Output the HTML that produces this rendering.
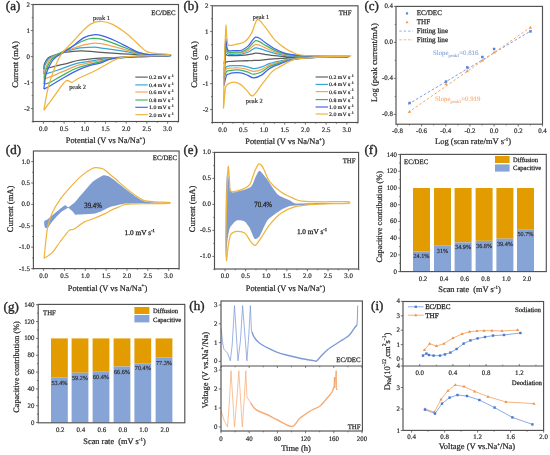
<!DOCTYPE html>
<html><head><meta charset="utf-8"><style>
html,body{margin:0;padding:0;background:#fff;}
svg{display:block;will-change:transform;}
text{font-family:"Liberation Serif", serif;text-rendering:geometricPrecision;}
</style></head><body>
<svg width="550" height="455" viewBox="0 0 550 455">
<rect width="550" height="455" fill="#fff"/>
<path d="M43.81,69.08 C43.85,68.65 43.88,67.39 44.02,66.48 C44.16,65.57 44.12,64.83 44.64,63.62 C45.16,62.41 46.23,60.33 47.13,59.2 C48.02,58.07 48.51,57.64 50.02,56.86 C51.54,56.08 53.82,55.26 56.23,54.52 C58.65,53.78 60.37,53.05 64.51,52.44 C68.65,51.83 75.9,50.97 81.07,50.88 C86.25,50.79 90.25,51.53 95.56,51.92 C100.88,52.31 105.78,52.79 112.95,53.22 C120.13,53.65 129.51,54.26 138.62,54.52 C147.73,54.78 162.77,54.65 167.6,54.78 C172.43,54.91 172.43,55.08 167.6,55.3 C162.77,55.52 147.73,55.69 138.62,56.08 C129.51,56.47 119.37,57.29 112.95,57.64 C106.53,57.99 105.98,57.68 100.12,58.16 C94.25,58.64 83.08,59.68 77.76,60.5 C72.45,61.32 71.83,62.19 68.24,63.1 C64.65,64.01 59.75,65.09 56.23,65.96 C52.71,66.83 49.2,67.78 47.13,68.3 C45.06,68.82 44.37,68.95 43.81,69.08" stroke="#5c5c5c" stroke-width="1.25" fill="none" stroke-linejoin="round" />
<path d="M43.81,74.28 C43.85,73.5 43.88,70.99 44.02,69.6 C44.16,68.21 43.92,67.69 44.64,65.96 C45.37,64.23 47.06,60.8 48.37,59.2 C49.68,57.6 50.58,57.29 52.51,56.34 C54.44,55.39 55.96,54.78 59.96,53.48 C63.96,52.18 70.86,49.58 76.52,48.54 C82.18,47.5 89.77,47.33 93.91,47.24 C98.05,47.15 98.19,47.63 101.36,48.02 C104.53,48.41 108.33,48.89 112.95,49.58 C117.58,50.27 124.68,51.4 129.1,52.18 C133.51,52.96 135.79,53.78 139.45,54.26 C143.1,54.74 146.35,54.87 151.04,55.04 C155.73,55.21 164.84,55.17 167.6,55.3 C170.36,55.43 172.43,55.6 167.6,55.82 C162.77,56.04 147.73,56.25 138.62,56.6 C129.51,56.95 119.37,57.38 112.95,57.9 C106.53,58.42 105.98,58.85 100.12,59.72 C94.25,60.59 84.11,61.63 77.76,63.1 C71.41,64.57 66.65,66.96 62.03,68.56 C57.41,70.16 53.06,71.77 50.02,72.72 C46.99,73.67 44.85,74.02 43.81,74.28" stroke="#35a6d6" stroke-width="1.25" fill="none" stroke-linejoin="round" />
<path d="M43.81,78.7 C43.92,77.83 44.19,75.1 44.43,73.5 C44.68,71.9 44.4,71.33 45.26,69.08 C46.13,66.83 47.99,62.19 49.61,59.98 C51.23,57.77 51.89,57.42 54.99,55.82 C58.1,54.22 63.41,52.18 68.24,50.36 C73.07,48.54 79.69,46.11 83.97,44.9 C88.25,43.69 91.01,43.3 93.91,43.08 C96.81,42.86 98.19,43.04 101.36,43.6 C104.53,44.16 108.33,45.25 112.95,46.46 C117.58,47.67 124.68,49.62 129.1,50.88 C133.51,52.14 135.79,53.31 139.45,54 C143.1,54.69 146.35,54.82 151.04,55.04 C155.73,55.26 164.84,55.17 167.6,55.3 C170.36,55.43 172.43,55.6 167.6,55.82 C162.77,56.04 147.73,56.21 138.62,56.6 C129.51,56.99 119.37,57.47 112.95,58.16 C106.53,58.85 105.98,59.55 100.12,60.76 C94.25,61.97 84.11,63.58 77.76,65.44 C71.41,67.3 66.86,69.95 62.03,71.94 C57.2,73.93 51.82,76.27 48.78,77.4 C45.75,78.53 44.64,78.48 43.81,78.7" stroke="#f6a35a" stroke-width="1.25" fill="none" stroke-linejoin="round" />
<path d="M44.02,84.16 C44.12,83.03 44.33,79.7 44.64,77.4 C44.95,75.1 44.78,73.28 45.88,70.38 C46.99,67.48 49.54,62.41 51.27,59.98 C52.99,57.55 54.09,57.34 56.23,55.82 C58.37,54.3 59.48,53.44 64.1,50.88 C68.72,48.32 79,42.56 83.97,40.48 C88.94,38.4 91.01,38.62 93.91,38.4 C96.81,38.18 98.19,38.4 101.36,39.18 C104.53,39.96 108.33,41.39 112.95,43.08 C117.58,44.77 124.68,47.59 129.1,49.32 C133.51,51.05 135.79,52.57 139.45,53.48 C143.1,54.39 146.35,54.48 151.04,54.78 C155.73,55.08 164.84,55.13 167.6,55.3 C170.36,55.47 172.43,55.6 167.6,55.82 C162.77,56.04 147.73,56.17 138.62,56.6 C129.51,57.03 119.37,57.55 112.95,58.42 C106.53,59.29 105.98,60.24 100.12,61.8 C94.25,63.36 84.11,65.48 77.76,67.78 C71.41,70.08 66.65,73.15 62.03,75.58 C57.41,78.01 53.03,80.91 50.02,82.34 C47.02,83.77 45.02,83.86 44.02,84.16" stroke="#3db45c" stroke-width="1.25" fill="none" stroke-linejoin="round" />
<path d="M43.81,89.1 C43.99,87.8 44.4,84.03 44.85,81.3 C45.3,78.57 45.23,76.19 46.5,72.72 C47.78,69.25 50.54,63.36 52.51,60.5 C54.47,57.64 55.68,57.38 58.3,55.56 C60.93,53.74 63.96,52.57 68.24,49.58 C72.52,46.59 79.69,40.09 83.97,37.62 C88.25,35.15 90.8,35.06 93.91,34.76 C97.01,34.46 99.15,34.85 102.6,35.8 C106.05,36.75 110.19,38.49 114.61,40.48 C119.02,42.47 124.96,45.72 129.1,47.76 C133.24,49.8 135.79,51.53 139.45,52.7 C143.1,53.87 146.35,54.35 151.04,54.78 C155.73,55.21 164.84,55.13 167.6,55.3 C170.36,55.47 172.43,55.6 167.6,55.82 C162.77,56.04 147.73,56.12 138.62,56.6 C129.51,57.08 119.37,57.6 112.95,58.68 C106.53,59.76 103.77,62.02 100.12,63.1 C96.46,64.18 94.74,64.01 91.01,65.18 C87.28,66.35 82.59,67.87 77.76,70.12 C72.93,72.37 66.65,76.06 62.03,78.7 C57.41,81.34 53.06,84.25 50.02,85.98 C46.99,87.71 44.85,88.58 43.81,89.1" stroke="#4262ec" stroke-width="1.25" fill="none" stroke-linejoin="round" />
<path d="M43.81,110.42 C44.3,107.73 45.75,98.98 46.71,94.3 C47.68,89.62 48.02,87.37 49.61,82.34 C51.2,77.31 54.16,68.99 56.23,64.14 C58.3,59.29 58.99,57.25 62.03,53.22 C65.07,49.19 71.28,43.38 74.45,39.96 C77.62,36.54 78.31,35.37 81.07,32.68 C83.83,29.99 87.49,25.7 91.01,23.84 C94.53,21.98 98.6,21.41 102.19,21.5 C105.78,21.59 109.16,22.84 112.54,24.36 C115.92,25.88 119.16,28.22 122.47,30.6 C125.79,32.98 129.37,35.97 132.41,38.66 C135.45,41.35 138.28,44.55 140.69,46.72 C143.1,48.89 144.49,50.53 146.9,51.66 C149.31,52.79 151.73,53.05 155.18,53.48 C158.63,53.91 165.53,53.96 167.6,54.26 C169.67,54.56 171.6,55.04 167.6,55.3 C163.6,55.56 150.97,55.52 143.59,55.82 C136.2,56.12 128.13,56.43 123.3,57.12 C118.47,57.81 118.47,58.16 114.61,59.98 C110.74,61.8 104.05,65.92 100.12,68.04 C96.18,70.16 94.74,70.94 91.01,72.72 C87.28,74.5 80.94,77.1 77.76,78.7 C74.59,80.3 73.97,81.95 71.97,82.34 C69.96,82.73 68.58,78.92 65.76,81.04 C62.93,83.16 58.65,90.18 54.99,95.08 C51.33,99.98 45.68,107.86 43.81,110.42" stroke="#eeb43c" stroke-width="1.25" fill="none" stroke-linejoin="round" />
<rect x="33" y="4.5" width="145.5" height="117" fill="none" stroke="#505050" stroke-width="1.15"/>
<line x1="43.4" y1="121.5" x2="43.4" y2="123.7" stroke="#505050" stroke-width="0.8" />
<text transform="translate(43.4,130.8)" font-size="6.9" text-anchor="middle" fill="#2a2a2a" stroke="#2a2a2a" stroke-width="0.2" >0.0</text>
<line x1="64.1" y1="121.5" x2="64.1" y2="123.7" stroke="#505050" stroke-width="0.8" />
<text transform="translate(64.1,130.8)" font-size="6.9" text-anchor="middle" fill="#2a2a2a" stroke="#2a2a2a" stroke-width="0.2" >0.5</text>
<line x1="84.8" y1="121.5" x2="84.8" y2="123.7" stroke="#505050" stroke-width="0.8" />
<text transform="translate(84.8,130.8)" font-size="6.9" text-anchor="middle" fill="#2a2a2a" stroke="#2a2a2a" stroke-width="0.2" >1.0</text>
<line x1="105.5" y1="121.5" x2="105.5" y2="123.7" stroke="#505050" stroke-width="0.8" />
<text transform="translate(105.5,130.8)" font-size="6.9" text-anchor="middle" fill="#2a2a2a" stroke="#2a2a2a" stroke-width="0.2" >1.5</text>
<line x1="126.2" y1="121.5" x2="126.2" y2="123.7" stroke="#505050" stroke-width="0.8" />
<text transform="translate(126.2,130.8)" font-size="6.9" text-anchor="middle" fill="#2a2a2a" stroke="#2a2a2a" stroke-width="0.2" >2.0</text>
<line x1="146.9" y1="121.5" x2="146.9" y2="123.7" stroke="#505050" stroke-width="0.8" />
<text transform="translate(146.9,130.8)" font-size="6.9" text-anchor="middle" fill="#2a2a2a" stroke="#2a2a2a" stroke-width="0.2" >2.5</text>
<line x1="167.6" y1="121.5" x2="167.6" y2="123.7" stroke="#505050" stroke-width="0.8" />
<text transform="translate(167.6,130.8)" font-size="6.9" text-anchor="middle" fill="#2a2a2a" stroke="#2a2a2a" stroke-width="0.2" >3.0</text>
<line x1="33.05" y1="121.5" x2="33.05" y2="122.82" stroke="#505050" stroke-width="0.7" />
<line x1="53.75" y1="121.5" x2="53.75" y2="122.82" stroke="#505050" stroke-width="0.7" />
<line x1="74.45" y1="121.5" x2="74.45" y2="122.82" stroke="#505050" stroke-width="0.7" />
<line x1="95.15" y1="121.5" x2="95.15" y2="122.82" stroke="#505050" stroke-width="0.7" />
<line x1="115.85" y1="121.5" x2="115.85" y2="122.82" stroke="#505050" stroke-width="0.7" />
<line x1="136.55" y1="121.5" x2="136.55" y2="122.82" stroke="#505050" stroke-width="0.7" />
<line x1="157.25" y1="121.5" x2="157.25" y2="122.82" stroke="#505050" stroke-width="0.7" />
<line x1="177.95" y1="121.5" x2="177.95" y2="122.82" stroke="#505050" stroke-width="0.7" />
<line x1="30.8" y1="4.6" x2="33" y2="4.6" stroke="#505050" stroke-width="0.8" />
<text transform="translate(30,6.6)" font-size="6.9" text-anchor="end" fill="#2a2a2a" stroke="#2a2a2a" stroke-width="0.2" >2</text>
<line x1="30.8" y1="30.6" x2="33" y2="30.6" stroke="#505050" stroke-width="0.8" />
<text transform="translate(30,32.6)" font-size="6.9" text-anchor="end" fill="#2a2a2a" stroke="#2a2a2a" stroke-width="0.2" >1</text>
<line x1="30.8" y1="56.6" x2="33" y2="56.6" stroke="#505050" stroke-width="0.8" />
<text transform="translate(30,58.6)" font-size="6.9" text-anchor="end" fill="#2a2a2a" stroke="#2a2a2a" stroke-width="0.2" >0</text>
<line x1="30.8" y1="82.6" x2="33" y2="82.6" stroke="#505050" stroke-width="0.8" />
<text transform="translate(30,84.6)" font-size="6.9" text-anchor="end" fill="#2a2a2a" stroke="#2a2a2a" stroke-width="0.2" >-1</text>
<line x1="30.8" y1="108.6" x2="33" y2="108.6" stroke="#505050" stroke-width="0.8" />
<text transform="translate(30,110.6)" font-size="6.9" text-anchor="end" fill="#2a2a2a" stroke="#2a2a2a" stroke-width="0.2" >-2</text>
<line x1="31.68" y1="17.6" x2="33" y2="17.6" stroke="#505050" stroke-width="0.7" />
<line x1="31.68" y1="43.6" x2="33" y2="43.6" stroke="#505050" stroke-width="0.7" />
<line x1="31.68" y1="69.6" x2="33" y2="69.6" stroke="#505050" stroke-width="0.7" />
<line x1="31.68" y1="95.6" x2="33" y2="95.6" stroke="#505050" stroke-width="0.7" />
<line x1="31.68" y1="121.6" x2="33" y2="121.6" stroke="#505050" stroke-width="0.7" />
<text transform="translate(105.5,143)" font-size="8.35" text-anchor="middle" fill="#2a2a2a" stroke="#2a2a2a" stroke-width="0.24" >Potential (V vs Na/Na<tspan dy="-3.5" font-size="5">+</tspan><tspan dy="3.5">)</tspan></text>
<text transform="translate(17.5,64.5) rotate(-90)" font-size="8.5" text-anchor="middle" fill="#2a2a2a" stroke="#2a2a2a" stroke-width="0.24" >Current (mA)</text>
<text transform="translate(5.8,10.2)" font-size="13" text-anchor="start" fill="#2a2a2a" stroke="#2a2a2a" stroke-width="0.4" >(a)</text>
<text transform="translate(175.5,15)" font-size="6.8" text-anchor="end" fill="#2a2a2a" stroke="#2a2a2a" stroke-width="0.25" >EC/DEC</text>
<text transform="translate(101.5,19.5)" font-size="6.4" text-anchor="middle" fill="#2a2a2a" stroke="#2a2a2a" stroke-width="0.15" >peak 1</text>
<text transform="translate(77.6,89.2)" font-size="6.4" text-anchor="middle" fill="#2a2a2a" stroke="#2a2a2a" stroke-width="0.15" >peak 2</text>
<line x1="135.3" y1="77.1" x2="147.8" y2="77.1" stroke="#5c5c5c" stroke-width="1.15" />
<text transform="translate(149,79.1) scale(1,0.9)" font-size="5.9" text-anchor="start" fill="#222" stroke="#222" stroke-width="0.2" >0.2 mV s<tspan dy="-2.4" font-size="4.2">-1</tspan></text>
<line x1="135.3" y1="84.9" x2="147.8" y2="84.9" stroke="#35a6d6" stroke-width="1.15" />
<text transform="translate(149,86.9) scale(1,0.9)" font-size="5.9" text-anchor="start" fill="#222" stroke="#222" stroke-width="0.2" >0.4 mV s<tspan dy="-2.4" font-size="4.2">-1</tspan></text>
<line x1="135.3" y1="92" x2="147.8" y2="92" stroke="#f6a35a" stroke-width="1.15" />
<text transform="translate(149,94) scale(1,0.9)" font-size="5.9" text-anchor="start" fill="#222" stroke="#222" stroke-width="0.2" >0.6 mV s<tspan dy="-2.4" font-size="4.2">-1</tspan></text>
<line x1="135.3" y1="100" x2="147.8" y2="100" stroke="#3db45c" stroke-width="1.15" />
<text transform="translate(149,102) scale(1,0.9)" font-size="5.9" text-anchor="start" fill="#222" stroke="#222" stroke-width="0.2" >0.8 mV s<tspan dy="-2.4" font-size="4.2">-1</tspan></text>
<line x1="135.3" y1="107.3" x2="147.8" y2="107.3" stroke="#4262ec" stroke-width="1.15" />
<text transform="translate(149,109.3) scale(1,0.9)" font-size="5.9" text-anchor="start" fill="#222" stroke="#222" stroke-width="0.2" >1.0 mV s<tspan dy="-2.4" font-size="4.2">-1</tspan></text>
<line x1="135.3" y1="114.7" x2="147.8" y2="114.7" stroke="#eeb43c" stroke-width="1.15" />
<text transform="translate(149,116.7) scale(1,0.9)" font-size="5.9" text-anchor="start" fill="#222" stroke="#222" stroke-width="0.2" >2.0 mV s<tspan dy="-2.4" font-size="4.2">-1</tspan></text>
<path d="M224.09,64.36 C224.19,63.57 224.47,61.09 224.67,59.63 C224.87,58.16 225.07,56.47 225.29,55.57 C225.51,54.67 225.75,54.3 225.99,54.22 C226.24,54.14 226.32,54.85 226.74,55.06 C227.16,55.28 227.14,55.44 228.52,55.52 C229.9,55.6 232.83,55.54 235.02,55.52 C237.21,55.5 239.44,55.55 241.64,55.42 C243.85,55.28 246.47,54.98 248.27,54.7 C250.06,54.43 251.17,54.02 252.41,53.77 C253.65,53.51 254.48,53.23 255.72,53.18 C256.96,53.13 258.34,53.31 259.86,53.49 C261.38,53.67 262.34,53.92 264.83,54.29 C267.31,54.65 271.45,55.31 274.76,55.7 C278.08,56.09 281.8,56.42 284.7,56.63 C287.6,56.83 288.7,57.08 292.15,56.94 C295.6,56.8 299.74,55.89 305.4,55.78 C311.06,55.67 319.2,56.21 326.1,56.3 C333,56.39 343.35,56.21 346.8,56.3 C350.25,56.39 350.25,56.69 346.8,56.82 C343.35,56.95 333,56.91 326.1,57.08 C319.2,57.25 311.4,57.71 305.4,57.86 C299.4,58.01 294.22,57.87 290.08,57.97 C285.94,58.07 283.94,58.27 280.56,58.46 C277.18,58.65 272.9,58.85 269.8,59.12 C266.69,59.38 264.62,59.81 261.93,60.03 C259.24,60.26 256.06,60.34 253.65,60.46 C251.23,60.58 248.41,60.7 247.44,60.75 C246.47,60.79 249.92,60.64 247.85,60.72 C245.78,60.8 238.19,61.11 235.02,61.24 C231.85,61.37 230.26,61.37 228.81,61.5 C227.36,61.63 227.11,61.54 226.33,62.02 C225.54,62.5 224.46,63.97 224.09,64.36" stroke="#5c5c5c" stroke-width="1.25" fill="none" stroke-linejoin="round" />
<path d="M224.09,70.08 C224.19,68.62 224.47,64.46 224.67,61.34 C224.87,58.22 225.07,53.72 225.29,51.36 C225.51,49 225.75,47.13 225.99,47.2 C226.24,47.27 226.32,50.59 226.74,51.76 C227.16,52.93 227.14,53.81 228.52,54.22 C229.9,54.63 232.83,54.25 235.02,54.22 C237.21,54.19 239.44,54.41 241.64,54.05 C243.85,53.69 246.47,52.79 248.27,52.04 C250.06,51.28 251.17,50.22 252.41,49.54 C253.65,48.86 254.48,48.13 255.72,47.98 C256.96,47.83 258.34,48.25 259.86,48.65 C261.38,49.05 262.34,49.58 264.83,50.39 C267.31,51.19 271.45,52.61 274.76,53.46 C278.08,54.31 281.8,55.03 284.7,55.48 C287.6,55.93 288.7,56.11 292.15,56.16 C295.6,56.21 299.74,55.76 305.4,55.78 C311.06,55.8 319.2,56.21 326.1,56.3 C333,56.39 343.35,56.21 346.8,56.3 C350.25,56.39 350.25,56.69 346.8,56.82 C343.35,56.95 333,56.91 326.1,57.08 C319.2,57.25 311.4,57.54 305.4,57.86 C299.4,58.18 294.22,58.52 290.08,59.02 C285.94,59.52 283.94,60.15 280.56,60.88 C277.18,61.6 272.9,62.39 269.8,63.39 C266.69,64.39 264.62,66.03 261.93,66.88 C259.24,67.74 256.06,68.51 253.65,68.52 C251.23,68.53 249.65,67.42 247.44,66.95 C245.23,66.47 242.82,65.87 240.4,65.66 C237.99,65.45 234.88,65.59 232.95,65.66 C231.02,65.72 229.84,65.92 228.81,66.05 C227.78,66.18 227.36,66.07 226.74,66.44 C226.12,66.81 225.53,67.65 225.08,68.26 C224.64,68.87 224.26,69.78 224.09,70.08" stroke="#35a6d6" stroke-width="1.25" fill="none" stroke-linejoin="round" />
<path d="M224.09,74.24 C224.19,72.3 224.47,66.67 224.67,62.59 C224.87,58.52 225.07,52.8 225.29,49.8 C225.51,46.8 225.75,44.54 225.99,44.6 C226.24,44.66 226.32,48.75 226.74,50.18 C227.16,51.61 227.14,52.68 228.52,53.18 C229.9,53.68 232.83,53.22 235.02,53.18 C237.21,53.14 239.44,53.47 241.64,52.96 C243.85,52.44 246.47,51.15 248.27,50.09 C250.06,49.02 251.17,47.51 252.41,46.55 C253.65,45.59 254.48,44.55 255.72,44.34 C256.96,44.13 258.34,44.72 259.86,45.27 C261.38,45.82 262.34,46.55 264.83,47.66 C267.31,48.76 271.45,50.73 274.76,51.9 C278.08,53.07 281.8,54.06 284.7,54.68 C287.6,55.3 288.7,55.43 292.15,55.61 C295.6,55.79 299.74,55.67 305.4,55.78 C311.06,55.89 319.2,56.21 326.1,56.3 C333,56.39 343.35,56.21 346.8,56.3 C350.25,56.39 350.25,56.69 346.8,56.82 C343.35,56.95 333,56.91 326.1,57.08 C319.2,57.25 311.4,57.47 305.4,57.86 C299.4,58.25 294.22,58.75 290.08,59.39 C285.94,60.04 283.94,60.82 280.56,61.73 C277.18,62.65 272.9,63.64 269.8,64.9 C266.69,66.17 264.62,68.23 261.93,69.31 C259.24,70.39 256.06,71.35 253.65,71.38 C251.23,71.41 249.65,70.08 247.44,69.52 C245.23,68.96 242.82,68.25 240.4,68 C237.99,67.75 234.88,67.96 232.95,68 C231.02,68.04 229.84,68.17 228.81,68.26 C227.78,68.35 227.36,68 226.74,68.52 C226.12,69.04 225.53,70.43 225.08,71.38 C224.64,72.33 224.26,73.76 224.09,74.24" stroke="#f6a35a" stroke-width="1.25" fill="none" stroke-linejoin="round" />
<path d="M224.09,78.66 C224.19,76.2 224.47,68.99 224.67,63.92 C224.87,58.85 225.07,51.89 225.29,48.24 C225.51,44.59 225.75,41.94 225.99,42 C226.24,42.06 226.32,46.9 226.74,48.59 C227.16,50.28 227.14,51.55 228.52,52.14 C229.9,52.73 232.83,52.19 235.02,52.14 C237.21,52.09 239.44,52.53 241.64,51.87 C243.85,51.2 246.47,49.52 248.27,48.14 C250.06,46.75 251.17,44.8 252.41,43.56 C253.65,42.32 254.48,40.98 255.72,40.7 C256.96,40.42 258.34,41.18 259.86,41.88 C261.38,42.59 262.34,43.52 264.83,44.92 C267.31,46.33 271.45,48.84 274.76,50.33 C278.08,51.83 281.8,53.09 284.7,53.88 C287.6,54.67 288.7,54.75 292.15,55.06 C295.6,55.38 299.74,55.57 305.4,55.78 C311.06,55.99 319.2,56.21 326.1,56.3 C333,56.39 343.35,56.21 346.8,56.3 C350.25,56.39 350.25,56.69 346.8,56.82 C343.35,56.95 333,56.91 326.1,57.08 C319.2,57.25 311.4,57.41 305.4,57.86 C299.4,58.31 294.22,58.97 290.08,59.76 C285.94,60.55 283.94,61.48 280.56,62.59 C277.18,63.7 272.9,64.89 269.8,66.42 C266.69,67.94 264.62,70.44 261.93,71.74 C259.24,73.05 256.06,74.21 253.65,74.24 C251.23,74.27 249.65,72.65 247.44,71.95 C245.23,71.26 242.82,70.39 240.4,70.08 C237.99,69.77 234.88,69.97 232.95,70.08 C231.02,70.19 229.84,70.51 228.81,70.73 C227.78,70.95 227.36,70.66 226.74,71.38 C226.12,72.09 225.53,73.81 225.08,75.02 C224.64,76.23 224.26,78.05 224.09,78.66" stroke="#3db45c" stroke-width="1.25" fill="none" stroke-linejoin="round" />
<path d="M224.09,85.68 C224.19,82.4 224.47,72.58 224.67,66.02 C224.87,59.47 225.07,50.89 225.29,46.37 C225.51,41.84 225.75,38.86 225.99,38.88 C226.24,38.9 226.32,44.53 226.74,46.48 C227.16,48.44 227.14,49.9 228.52,50.58 C229.9,51.26 232.83,50.64 235.02,50.58 C237.21,50.52 239.44,51.02 241.64,50.23 C243.85,49.44 246.47,47.48 248.27,45.85 C250.06,44.22 251.17,41.9 252.41,40.44 C253.65,38.98 254.48,37.38 255.72,37.06 C256.96,36.74 258.34,37.64 259.86,38.5 C261.38,39.35 262.34,40.48 264.83,42.2 C267.31,43.91 271.45,46.95 274.76,48.77 C278.08,50.58 281.8,52.12 284.7,53.08 C287.6,54.04 288.7,54.07 292.15,54.52 C295.6,54.97 299.74,55.48 305.4,55.78 C311.06,56.08 319.2,56.21 326.1,56.3 C333,56.39 343.35,56.21 346.8,56.3 C350.25,56.39 350.25,56.69 346.8,56.82 C343.35,56.95 333,56.91 326.1,57.08 C319.2,57.25 311.4,57.33 305.4,57.86 C299.4,58.39 294.22,59.27 290.08,60.24 C285.94,61.21 283.94,62.33 280.56,63.68 C277.18,65.04 272.9,66.49 269.8,68.35 C266.69,70.21 264.62,73.25 261.93,74.84 C259.24,76.43 256.06,77.83 253.65,77.88 C251.23,77.93 249.65,75.99 247.44,75.16 C245.23,74.34 242.82,73.31 240.4,72.94 C237.99,72.57 234.88,72.77 232.95,72.94 C231.02,73.11 229.84,73.63 228.81,73.98 C227.78,74.33 227.36,73.96 226.74,75.02 C226.12,76.08 225.53,78.57 225.08,80.35 C224.64,82.13 224.26,84.79 224.09,85.68" stroke="#4262ec" stroke-width="1.25" fill="none" stroke-linejoin="round" />
<path d="M223.43,108.56 C223.53,103.53 223.84,87.76 224.05,78.4 C224.26,69.04 224.43,59.77 224.67,52.4 C224.91,45.03 225.28,38.79 225.5,34.2 C225.72,29.61 225.82,24.84 225.99,24.84 C226.17,24.84 226.27,31.12 226.53,34.2 C226.8,37.28 227.24,41.44 227.57,43.3 C227.9,45.16 227.28,45.16 228.52,45.38 C229.76,45.6 232.28,45.25 235.02,44.6 C237.76,43.95 242.2,43.39 244.96,41.48 C247.72,39.57 249.51,36.8 251.58,33.16 C253.65,29.52 255.17,20.72 257.38,19.64 C259.58,18.56 261.93,23.28 264.83,26.66 C267.73,30.04 271.45,36.37 274.76,39.92 C278.08,43.47 281.8,45.94 284.7,47.98 C287.6,50.02 289.6,50.97 292.15,52.14 C294.7,53.31 296.43,54.39 300.02,55 C303.61,55.61 305.88,55.69 313.68,55.78 C321.48,55.87 341.28,55.43 346.8,55.52 C352.32,55.61 352.32,56 346.8,56.3 C341.28,56.6 321.27,56.99 313.68,57.34 C306.09,57.69 304.85,57.9 301.26,58.38 C297.67,58.86 296.02,58.64 292.15,60.2 C288.29,61.76 281.46,65.79 278.08,67.74 C274.7,69.69 274.56,69.13 271.87,71.9 C269.17,74.67 265.1,80.39 261.93,84.38 C258.76,88.37 255.38,94.87 252.82,95.82 C250.27,96.77 248.68,92.01 246.61,90.1 C244.54,88.19 242.61,85.72 240.4,84.38 C238.19,83.04 235.71,81.82 233.36,82.04 C231.02,82.26 227.73,83.86 226.33,85.68 C224.92,87.5 225.3,90.06 224.92,92.96 C224.54,95.86 224.3,100.5 224.05,103.1 C223.8,105.7 223.53,107.65 223.43,108.56" stroke="#eeb43c" stroke-width="1.25" fill="none" stroke-linejoin="round" />
<rect x="212.3" y="5.8" width="145.7" height="116.7" fill="none" stroke="#505050" stroke-width="1.15"/>
<line x1="222.6" y1="122.5" x2="222.6" y2="124.7" stroke="#505050" stroke-width="0.8" />
<text transform="translate(222.6,131.9)" font-size="6.9" text-anchor="middle" fill="#2a2a2a" stroke="#2a2a2a" stroke-width="0.2" >0.0</text>
<line x1="243.3" y1="122.5" x2="243.3" y2="124.7" stroke="#505050" stroke-width="0.8" />
<text transform="translate(243.3,131.9)" font-size="6.9" text-anchor="middle" fill="#2a2a2a" stroke="#2a2a2a" stroke-width="0.2" >0.5</text>
<line x1="264" y1="122.5" x2="264" y2="124.7" stroke="#505050" stroke-width="0.8" />
<text transform="translate(264,131.9)" font-size="6.9" text-anchor="middle" fill="#2a2a2a" stroke="#2a2a2a" stroke-width="0.2" >1.0</text>
<line x1="284.7" y1="122.5" x2="284.7" y2="124.7" stroke="#505050" stroke-width="0.8" />
<text transform="translate(284.7,131.9)" font-size="6.9" text-anchor="middle" fill="#2a2a2a" stroke="#2a2a2a" stroke-width="0.2" >1.5</text>
<line x1="305.4" y1="122.5" x2="305.4" y2="124.7" stroke="#505050" stroke-width="0.8" />
<text transform="translate(305.4,131.9)" font-size="6.9" text-anchor="middle" fill="#2a2a2a" stroke="#2a2a2a" stroke-width="0.2" >2.0</text>
<line x1="326.1" y1="122.5" x2="326.1" y2="124.7" stroke="#505050" stroke-width="0.8" />
<text transform="translate(326.1,131.9)" font-size="6.9" text-anchor="middle" fill="#2a2a2a" stroke="#2a2a2a" stroke-width="0.2" >2.5</text>
<line x1="346.8" y1="122.5" x2="346.8" y2="124.7" stroke="#505050" stroke-width="0.8" />
<text transform="translate(346.8,131.9)" font-size="6.9" text-anchor="middle" fill="#2a2a2a" stroke="#2a2a2a" stroke-width="0.2" >3.0</text>
<line x1="212.25" y1="122.5" x2="212.25" y2="123.82" stroke="#505050" stroke-width="0.7" />
<line x1="232.95" y1="122.5" x2="232.95" y2="123.82" stroke="#505050" stroke-width="0.7" />
<line x1="253.65" y1="122.5" x2="253.65" y2="123.82" stroke="#505050" stroke-width="0.7" />
<line x1="274.35" y1="122.5" x2="274.35" y2="123.82" stroke="#505050" stroke-width="0.7" />
<line x1="295.05" y1="122.5" x2="295.05" y2="123.82" stroke="#505050" stroke-width="0.7" />
<line x1="315.75" y1="122.5" x2="315.75" y2="123.82" stroke="#505050" stroke-width="0.7" />
<line x1="336.45" y1="122.5" x2="336.45" y2="123.82" stroke="#505050" stroke-width="0.7" />
<line x1="357.15" y1="122.5" x2="357.15" y2="123.82" stroke="#505050" stroke-width="0.7" />
<line x1="210.1" y1="5.6" x2="212.3" y2="5.6" stroke="#505050" stroke-width="0.8" />
<text transform="translate(208.5,7.6)" font-size="6.9" text-anchor="end" fill="#2a2a2a" stroke="#2a2a2a" stroke-width="0.2" >2</text>
<line x1="210.1" y1="31.6" x2="212.3" y2="31.6" stroke="#505050" stroke-width="0.8" />
<text transform="translate(208.5,33.6)" font-size="6.9" text-anchor="end" fill="#2a2a2a" stroke="#2a2a2a" stroke-width="0.2" >1</text>
<line x1="210.1" y1="57.6" x2="212.3" y2="57.6" stroke="#505050" stroke-width="0.8" />
<text transform="translate(208.5,59.6)" font-size="6.9" text-anchor="end" fill="#2a2a2a" stroke="#2a2a2a" stroke-width="0.2" >0</text>
<line x1="210.1" y1="83.6" x2="212.3" y2="83.6" stroke="#505050" stroke-width="0.8" />
<text transform="translate(208.5,85.6)" font-size="6.9" text-anchor="end" fill="#2a2a2a" stroke="#2a2a2a" stroke-width="0.2" >-1</text>
<line x1="210.1" y1="109.6" x2="212.3" y2="109.6" stroke="#505050" stroke-width="0.8" />
<text transform="translate(208.5,111.6)" font-size="6.9" text-anchor="end" fill="#2a2a2a" stroke="#2a2a2a" stroke-width="0.2" >-2</text>
<line x1="210.98" y1="18.6" x2="212.3" y2="18.6" stroke="#505050" stroke-width="0.7" />
<line x1="210.98" y1="44.6" x2="212.3" y2="44.6" stroke="#505050" stroke-width="0.7" />
<line x1="210.98" y1="70.6" x2="212.3" y2="70.6" stroke="#505050" stroke-width="0.7" />
<line x1="210.98" y1="96.6" x2="212.3" y2="96.6" stroke="#505050" stroke-width="0.7" />
<line x1="210.98" y1="122.6" x2="212.3" y2="122.6" stroke="#505050" stroke-width="0.7" />
<text transform="translate(285,144)" font-size="8.35" text-anchor="middle" fill="#2a2a2a" stroke="#2a2a2a" stroke-width="0.24" >Potential (V vs Na/Na<tspan dy="-3.5" font-size="5">+</tspan><tspan dy="3.5">)</tspan></text>
<text transform="translate(196.5,64.5) rotate(-90)" font-size="8.5" text-anchor="middle" fill="#2a2a2a" stroke="#2a2a2a" stroke-width="0.24" >Current (mA)</text>
<text transform="translate(183.5,9.6)" font-size="13" text-anchor="start" fill="#2a2a2a" stroke="#2a2a2a" stroke-width="0.4" >(b)</text>
<text transform="translate(351.5,15)" font-size="6.8" text-anchor="end" fill="#2a2a2a" stroke="#2a2a2a" stroke-width="0.25" >THF</text>
<text transform="translate(261,18.5)" font-size="6.2" text-anchor="middle" fill="#2a2a2a" stroke="#2a2a2a" stroke-width="0.15" >peak 1</text>
<text transform="translate(254.2,102.6)" font-size="6.4" text-anchor="middle" fill="#2a2a2a" stroke="#2a2a2a" stroke-width="0.15" >peak 2</text>
<line x1="315.6" y1="77" x2="328.1" y2="77" stroke="#5c5c5c" stroke-width="1.15" />
<text transform="translate(329,79) scale(1,0.9)" font-size="5.9" text-anchor="start" fill="#222" stroke="#222" stroke-width="0.2" >0.2 mV s<tspan dy="-2.4" font-size="4.2">-1</tspan></text>
<line x1="315.6" y1="84.4" x2="328.1" y2="84.4" stroke="#35a6d6" stroke-width="1.15" />
<text transform="translate(329,86.4) scale(1,0.9)" font-size="5.9" text-anchor="start" fill="#222" stroke="#222" stroke-width="0.2" >0.4 mV s<tspan dy="-2.4" font-size="4.2">-1</tspan></text>
<line x1="315.6" y1="91.6" x2="328.1" y2="91.6" stroke="#f6a35a" stroke-width="1.15" />
<text transform="translate(329,93.6) scale(1,0.9)" font-size="5.9" text-anchor="start" fill="#222" stroke="#222" stroke-width="0.2" >0.6 mV s<tspan dy="-2.4" font-size="4.2">-1</tspan></text>
<line x1="315.6" y1="99.6" x2="328.1" y2="99.6" stroke="#3db45c" stroke-width="1.15" />
<text transform="translate(329,101.6) scale(1,0.9)" font-size="5.9" text-anchor="start" fill="#222" stroke="#222" stroke-width="0.2" >0.8 mV s<tspan dy="-2.4" font-size="4.2">-1</tspan></text>
<line x1="315.6" y1="107" x2="328.1" y2="107" stroke="#4262ec" stroke-width="1.15" />
<text transform="translate(329,109) scale(1,0.9)" font-size="5.9" text-anchor="start" fill="#222" stroke="#222" stroke-width="0.2" >1.0 mV s<tspan dy="-2.4" font-size="4.2">-1</tspan></text>
<line x1="315.6" y1="114" x2="328.1" y2="114" stroke="#eeb43c" stroke-width="1.15" />
<text transform="translate(329,116) scale(1,0.9)" font-size="5.9" text-anchor="start" fill="#222" stroke="#222" stroke-width="0.2" >2.0 mV s<tspan dy="-2.4" font-size="4.2">-1</tspan></text>
<line x1="408.09" y1="104.3" x2="531.49" y2="30.5" stroke="#7b9fe0" stroke-width="1.0" stroke-dasharray="2.6,2"/>
<line x1="408.09" y1="112.6" x2="531.49" y2="26.6" stroke="#f5a86a" stroke-width="1.0" stroke-dasharray="2.6,2"/>
<rect x="408.34" y="101.75" width="2.5" height="2.5" fill="#5a82d4" stroke="none" stroke-width="1"/>
<rect x="444.74" y="80.35" width="2.5" height="2.5" fill="#5a82d4" stroke="none" stroke-width="1"/>
<rect x="466.03" y="66.15" width="2.5" height="2.5" fill="#5a82d4" stroke="none" stroke-width="1"/>
<rect x="481.13" y="55.75" width="2.5" height="2.5" fill="#5a82d4" stroke="none" stroke-width="1"/>
<rect x="492.85" y="47.75" width="2.5" height="2.5" fill="#5a82d4" stroke="none" stroke-width="1"/>
<rect x="529.24" y="30.15" width="2.5" height="2.5" fill="#5a82d4" stroke="none" stroke-width="1"/>
<path d="M409.59,109.9 L411.19,112.8 L407.99,112.8Z" fill="#f39650"/>
<path d="M445.99,82.3 L447.59,85.2 L444.39,85.2Z" fill="#f39650"/>
<path d="M467.28,69.3 L468.88,72.2 L465.68,72.2Z" fill="#f39650"/>
<path d="M482.38,58.7 L483.98,61.6 L480.78,61.6Z" fill="#f39650"/>
<path d="M494.1,50.7 L495.7,53.6 L492.5,53.6Z" fill="#f39650"/>
<path d="M530.49,25.9 L532.09,28.8 L528.89,28.8Z" fill="#f39650"/>
<rect x="396" y="6.4" width="146.5" height="117.8" fill="none" stroke="#505050" stroke-width="1.15"/>
<line x1="397.38" y1="124.2" x2="397.38" y2="126.4" stroke="#505050" stroke-width="0.8" />
<text transform="translate(397.38,133)" font-size="6.9" text-anchor="middle" fill="#2a2a2a" stroke="#2a2a2a" stroke-width="0.2" >-0.8</text>
<line x1="421.56" y1="124.2" x2="421.56" y2="126.4" stroke="#505050" stroke-width="0.8" />
<text transform="translate(421.56,133)" font-size="6.9" text-anchor="middle" fill="#2a2a2a" stroke="#2a2a2a" stroke-width="0.2" >-0.6</text>
<line x1="445.74" y1="124.2" x2="445.74" y2="126.4" stroke="#505050" stroke-width="0.8" />
<text transform="translate(445.74,133)" font-size="6.9" text-anchor="middle" fill="#2a2a2a" stroke="#2a2a2a" stroke-width="0.2" >-0.4</text>
<line x1="469.92" y1="124.2" x2="469.92" y2="126.4" stroke="#505050" stroke-width="0.8" />
<text transform="translate(469.92,133)" font-size="6.9" text-anchor="middle" fill="#2a2a2a" stroke="#2a2a2a" stroke-width="0.2" >-0.2</text>
<line x1="494.1" y1="124.2" x2="494.1" y2="126.4" stroke="#505050" stroke-width="0.8" />
<text transform="translate(494.1,133)" font-size="6.9" text-anchor="middle" fill="#2a2a2a" stroke="#2a2a2a" stroke-width="0.2" >0.0</text>
<line x1="518.28" y1="124.2" x2="518.28" y2="126.4" stroke="#505050" stroke-width="0.8" />
<text transform="translate(518.28,133)" font-size="6.9" text-anchor="middle" fill="#2a2a2a" stroke="#2a2a2a" stroke-width="0.2" >0.2</text>
<line x1="542.46" y1="124.2" x2="542.46" y2="126.4" stroke="#505050" stroke-width="0.8" />
<text transform="translate(542.46,133)" font-size="6.9" text-anchor="middle" fill="#2a2a2a" stroke="#2a2a2a" stroke-width="0.2" >0.4</text>
<line x1="409.47" y1="124.2" x2="409.47" y2="125.52" stroke="#505050" stroke-width="0.7" />
<line x1="433.65" y1="124.2" x2="433.65" y2="125.52" stroke="#505050" stroke-width="0.7" />
<line x1="457.83" y1="124.2" x2="457.83" y2="125.52" stroke="#505050" stroke-width="0.7" />
<line x1="482.01" y1="124.2" x2="482.01" y2="125.52" stroke="#505050" stroke-width="0.7" />
<line x1="506.19" y1="124.2" x2="506.19" y2="125.52" stroke="#505050" stroke-width="0.7" />
<line x1="530.37" y1="124.2" x2="530.37" y2="125.52" stroke="#505050" stroke-width="0.7" />
<line x1="393.8" y1="6.4" x2="396" y2="6.4" stroke="#505050" stroke-width="0.8" />
<text transform="translate(393,8.4)" font-size="6.9" text-anchor="end" fill="#2a2a2a" stroke="#2a2a2a" stroke-width="0.2" >0.4</text>
<line x1="393.8" y1="42.4" x2="396" y2="42.4" stroke="#505050" stroke-width="0.8" />
<text transform="translate(393,44.4)" font-size="6.9" text-anchor="end" fill="#2a2a2a" stroke="#2a2a2a" stroke-width="0.2" >0.0</text>
<line x1="393.8" y1="78.4" x2="396" y2="78.4" stroke="#505050" stroke-width="0.8" />
<text transform="translate(393,80.4)" font-size="6.9" text-anchor="end" fill="#2a2a2a" stroke="#2a2a2a" stroke-width="0.2" >-0.4</text>
<line x1="393.8" y1="114.4" x2="396" y2="114.4" stroke="#505050" stroke-width="0.8" />
<text transform="translate(393,116.4)" font-size="6.9" text-anchor="end" fill="#2a2a2a" stroke="#2a2a2a" stroke-width="0.2" >-0.8</text>
<line x1="394.68" y1="24.4" x2="396" y2="24.4" stroke="#505050" stroke-width="0.7" />
<line x1="394.68" y1="60.4" x2="396" y2="60.4" stroke="#505050" stroke-width="0.7" />
<line x1="394.68" y1="96.4" x2="396" y2="96.4" stroke="#505050" stroke-width="0.7" />
<text transform="translate(473,144)" font-size="8.5" text-anchor="middle" fill="#2a2a2a" stroke="#2a2a2a" stroke-width="0.24" >Log (scan rate/mV s<tspan dy="-3.5" font-size="5">-1</tspan><tspan dy="3.5">)</tspan></text>
<text transform="translate(377,62.5) rotate(-90)" font-size="8.5" text-anchor="middle" fill="#2a2a2a" stroke="#2a2a2a" stroke-width="0.24" >Log (peak current/mA)</text>
<text transform="translate(364.5,10.3)" font-size="13" text-anchor="start" fill="#2a2a2a" stroke="#2a2a2a" stroke-width="0.4" >(c)</text>
<rect x="405.9" y="12.3" width="2.2" height="2.2" fill="#5d86d6" stroke="none" stroke-width="1"/>
<path d="M407,20.6 L408.5,23.2 L405.5,23.2Z" fill="#f39a52"/>
<line x1="399.3" y1="31.1" x2="413" y2="31.1" stroke="#8fb0e6" stroke-width="1.0" stroke-dasharray="2.4,2"/>
<line x1="399.3" y1="39.8" x2="413" y2="39.8" stroke="#f7b07a" stroke-width="1.0" stroke-dasharray="2.4,2"/>
<text transform="translate(416.7,15)" font-size="7.1" text-anchor="start" fill="#2a2a2a" stroke="#2a2a2a" stroke-width="0.25" >EC/DEC</text>
<text transform="translate(416.7,23.6)" font-size="7.1" text-anchor="start" fill="#2a2a2a" stroke="#2a2a2a" stroke-width="0.25" >THF</text>
<text transform="translate(416.7,33)" font-size="7.1" text-anchor="start" fill="#2a2a2a" stroke="#2a2a2a" stroke-width="0.25" >Fitting line</text>
<text transform="translate(416.7,41.7)" font-size="7.1" text-anchor="start" fill="#2a2a2a" stroke="#2a2a2a" stroke-width="0.25" >Fitting line</text>
<text transform="translate(433,55)" font-size="6.8" text-anchor="start" fill="#86a4dd" stroke="#86a4dd" stroke-width="0.1" >Slope<tspan dy="1.5" font-size="4.5">peak1</tspan><tspan dy="-1.5">=0.816</tspan></text>
<text transform="translate(435,101)" font-size="6.8" text-anchor="start" fill="#f4ac78" stroke="#f4ac78" stroke-width="0.1" >Slope<tspan dy="1.5" font-size="4.5">peak1</tspan><tspan dy="-1.5">=0.919</tspan></text>
<path d="M44.2,221.1 C44.55,220.91 46.97,219.7 47.7,219.2 C48.43,218.7 50.58,216.87 51.5,216.1 C52.42,215.33 55.74,212.46 56.9,211.5 C58.06,210.54 62.25,207.12 63.1,206.5 C63.95,205.88 64.86,205.23 65.4,205.3 C65.94,205.37 67.58,207.47 68.5,207.2 C69.42,206.93 73.55,203.59 74.6,202.6 C75.65,201.61 78.01,198.46 79,197.3 C79.99,196.14 83.1,192.58 84.5,191 C85.9,189.42 91.15,183.06 93,181.5 C94.85,179.94 101.3,175.85 103,175.4 C104.7,174.95 108.03,175.86 110,177 C111.97,178.14 120.15,184.85 122.7,186.8 C125.25,188.75 133.33,195.05 135.5,196.5 C137.67,197.95 142.45,200.7 144.4,201.3 C146.35,201.9 152.59,202.35 155,202.5 C157.41,202.65 167.15,202.71 168.5,202.8 C169.85,202.89 170.35,203.34 168.5,203.4 C166.65,203.46 153.3,203.41 150,203.4 C146.7,203.39 138.23,203.25 135.5,203.3 C132.77,203.35 125.25,203.53 122.7,203.9 C120.15,204.27 112.17,206.24 110,207 C107.83,207.76 102.7,210.82 101,211.5 C99.3,212.18 95.18,213.49 93,213.8 C90.82,214.11 81,214.53 79.2,214.6 C77.4,214.67 75.69,214.85 75,214.5 C74.31,214.15 72.95,211.76 72.3,211.1 C71.65,210.44 69.08,208.13 68.5,207.9 C67.92,207.67 67.2,208.41 66.5,208.8 C65.8,209.19 62.61,210.88 61.5,211.8 C60.39,212.72 56.47,216.84 55.4,218 C54.33,219.16 51.57,222.4 50.8,223.4 C50.03,224.4 48.28,227.58 47.7,228 C47.12,228.42 45.35,228 45,227.6 C44.65,227.2 44.28,224.65 44.2,224 C44.12,223.35 44.2,221.39 44.2,221.1Z" stroke="none" stroke-width="1" fill="#7f9cd1" stroke-linejoin="round" />
<path d="M44.1,258.4 C44.3,256.35 45.09,247.33 45.6,243 C46.11,238.67 47.01,229.94 47.9,225.9 C48.79,221.86 50.69,216.21 52.3,212.7 C53.91,209.19 57.51,203.11 60,199.6 C62.49,196.09 68.07,189.63 71,186.4 C73.93,183.17 79.23,177.75 82,175.4 C84.77,173.05 89.91,169.83 91.8,168.8 C93.69,167.77 94.6,167.63 96.2,167.7 C97.8,167.77 101.96,168.39 103.8,169.3 C105.64,170.21 108.31,173.1 110,174.5 C111.69,175.9 114.81,178.35 116.5,179.8 C118.19,181.25 120.17,183.31 122.7,185.4 C125.23,187.49 132.61,193.47 135.5,195.5 C138.39,197.53 141.87,199.76 144.4,200.6 C146.93,201.44 151.29,201.57 154.5,201.8 C157.71,202.03 166.63,202.1 168.5,202.3 C170.37,202.5 171.5,203.11 168.5,203.3 C165.5,203.49 150.4,203.62 146,203.7 C141.6,203.78 138.26,203.79 135.5,203.9 C132.74,204.01 127.82,203.97 125.3,204.5 C122.78,205.03 118.64,207.06 116.6,207.9 C114.56,208.74 111.55,210.04 110,210.8 C108.45,211.56 107.27,212.53 105,213.6 C102.73,214.67 95.73,217.69 93,218.8 C90.27,219.91 87.06,220.51 84.5,221.9 C81.94,223.29 75.84,228.07 73.8,229.2 C71.76,230.33 71.04,228.69 69.2,230.4 C67.36,232.11 62.27,239.03 60,242 C57.73,244.97 54.32,250.51 52.2,252.7 C50.08,254.89 45.18,257.64 44.1,258.4" stroke="#eeb43c" stroke-width="1.2" fill="none" stroke-linejoin="round" />
<rect x="33.4" y="151" width="145.7" height="117.6" fill="none" stroke="#505050" stroke-width="1.15"/>
<line x1="43.6" y1="268.6" x2="43.6" y2="270.8" stroke="#505050" stroke-width="0.8" />
<text transform="translate(43.6,277.6)" font-size="6.9" text-anchor="middle" fill="#2a2a2a" stroke="#2a2a2a" stroke-width="0.2" >0.0</text>
<line x1="64.44" y1="268.6" x2="64.44" y2="270.8" stroke="#505050" stroke-width="0.8" />
<text transform="translate(64.44,277.6)" font-size="6.9" text-anchor="middle" fill="#2a2a2a" stroke="#2a2a2a" stroke-width="0.2" >0.5</text>
<line x1="85.27" y1="268.6" x2="85.27" y2="270.8" stroke="#505050" stroke-width="0.8" />
<text transform="translate(85.27,277.6)" font-size="6.9" text-anchor="middle" fill="#2a2a2a" stroke="#2a2a2a" stroke-width="0.2" >1.0</text>
<line x1="106.11" y1="268.6" x2="106.11" y2="270.8" stroke="#505050" stroke-width="0.8" />
<text transform="translate(106.11,277.6)" font-size="6.9" text-anchor="middle" fill="#2a2a2a" stroke="#2a2a2a" stroke-width="0.2" >1.5</text>
<line x1="126.94" y1="268.6" x2="126.94" y2="270.8" stroke="#505050" stroke-width="0.8" />
<text transform="translate(126.94,277.6)" font-size="6.9" text-anchor="middle" fill="#2a2a2a" stroke="#2a2a2a" stroke-width="0.2" >2.0</text>
<line x1="147.78" y1="268.6" x2="147.78" y2="270.8" stroke="#505050" stroke-width="0.8" />
<text transform="translate(147.78,277.6)" font-size="6.9" text-anchor="middle" fill="#2a2a2a" stroke="#2a2a2a" stroke-width="0.2" >2.5</text>
<line x1="168.61" y1="268.6" x2="168.61" y2="270.8" stroke="#505050" stroke-width="0.8" />
<text transform="translate(168.61,277.6)" font-size="6.9" text-anchor="middle" fill="#2a2a2a" stroke="#2a2a2a" stroke-width="0.2" >3.0</text>
<line x1="33.18" y1="268.6" x2="33.18" y2="269.92" stroke="#505050" stroke-width="0.7" />
<line x1="54.02" y1="268.6" x2="54.02" y2="269.92" stroke="#505050" stroke-width="0.7" />
<line x1="74.85" y1="268.6" x2="74.85" y2="269.92" stroke="#505050" stroke-width="0.7" />
<line x1="95.69" y1="268.6" x2="95.69" y2="269.92" stroke="#505050" stroke-width="0.7" />
<line x1="116.52" y1="268.6" x2="116.52" y2="269.92" stroke="#505050" stroke-width="0.7" />
<line x1="137.36" y1="268.6" x2="137.36" y2="269.92" stroke="#505050" stroke-width="0.7" />
<line x1="158.19" y1="268.6" x2="158.19" y2="269.92" stroke="#505050" stroke-width="0.7" />
<line x1="179.03" y1="268.6" x2="179.03" y2="269.92" stroke="#505050" stroke-width="0.7" />
<line x1="31.2" y1="161.6" x2="33.4" y2="161.6" stroke="#505050" stroke-width="0.8" />
<text transform="translate(30,163.6)" font-size="6.9" text-anchor="end" fill="#2a2a2a" stroke="#2a2a2a" stroke-width="0.2" >1.0</text>
<line x1="31.2" y1="183" x2="33.4" y2="183" stroke="#505050" stroke-width="0.8" />
<text transform="translate(30,185)" font-size="6.9" text-anchor="end" fill="#2a2a2a" stroke="#2a2a2a" stroke-width="0.2" >0.5</text>
<line x1="31.2" y1="204.4" x2="33.4" y2="204.4" stroke="#505050" stroke-width="0.8" />
<text transform="translate(30,206.4)" font-size="6.9" text-anchor="end" fill="#2a2a2a" stroke="#2a2a2a" stroke-width="0.2" >0.0</text>
<line x1="31.2" y1="225.8" x2="33.4" y2="225.8" stroke="#505050" stroke-width="0.8" />
<text transform="translate(30,227.8)" font-size="6.9" text-anchor="end" fill="#2a2a2a" stroke="#2a2a2a" stroke-width="0.2" >-0.5</text>
<line x1="31.2" y1="247.2" x2="33.4" y2="247.2" stroke="#505050" stroke-width="0.8" />
<text transform="translate(30,249.2)" font-size="6.9" text-anchor="end" fill="#2a2a2a" stroke="#2a2a2a" stroke-width="0.2" >-1.0</text>
<line x1="31.2" y1="268.6" x2="33.4" y2="268.6" stroke="#505050" stroke-width="0.8" />
<text transform="translate(30,270.6)" font-size="6.9" text-anchor="end" fill="#2a2a2a" stroke="#2a2a2a" stroke-width="0.2" >-1.5</text>
<line x1="32.08" y1="172.3" x2="33.4" y2="172.3" stroke="#505050" stroke-width="0.7" />
<line x1="32.08" y1="193.7" x2="33.4" y2="193.7" stroke="#505050" stroke-width="0.7" />
<line x1="32.08" y1="215.1" x2="33.4" y2="215.1" stroke="#505050" stroke-width="0.7" />
<line x1="32.08" y1="236.5" x2="33.4" y2="236.5" stroke="#505050" stroke-width="0.7" />
<line x1="32.08" y1="257.9" x2="33.4" y2="257.9" stroke="#505050" stroke-width="0.7" />
<text transform="translate(107.5,290.5)" font-size="8.35" text-anchor="middle" fill="#2a2a2a" stroke="#2a2a2a" stroke-width="0.24" >Potential (V vs Na/Na<tspan dy="-3.5" font-size="5">+</tspan><tspan dy="3.5">)</tspan></text>
<text transform="translate(13.2,209) rotate(-90)" font-size="8.5" text-anchor="middle" fill="#2a2a2a" stroke="#2a2a2a" stroke-width="0.24" >Current (mA)</text>
<text transform="translate(5.8,154.4)" font-size="13" text-anchor="start" fill="#2a2a2a" stroke="#2a2a2a" stroke-width="0.4" >(d)</text>
<text transform="translate(177,160)" font-size="6.8" text-anchor="end" fill="#2a2a2a" stroke="#2a2a2a" stroke-width="0.25" >EC/DEC</text>
<text transform="translate(139.7,235)" font-size="7.3" text-anchor="middle" fill="#2a2a2a" stroke="#2a2a2a" stroke-width="0.3" >1.0 mV s<tspan dy="-2.8" font-size="4.6">-1</tspan></text>
<text transform="translate(93.1,207.6) scale(1,1.15)" font-size="6.9" text-anchor="middle" fill="#2a2a2a" stroke="#2a2a2a" stroke-width="0.25" >39.4%</text>
<path d="M225.8,252 C225.8,246.8 225.73,207.2 225.8,200 C225.87,192.8 226.34,182.85 226.5,180 C226.66,177.15 227.15,171.5 227.4,171.5 C227.65,171.5 228.59,177.94 229,180 C229.41,182.06 230.26,191.05 231.5,192.1 C232.74,193.15 239.42,191.07 241.4,190.5 C243.38,189.93 249.84,187.85 251.3,186.4 C252.76,184.95 255.17,177.57 256,176 C256.83,174.43 258.58,170.49 259.6,170.7 C260.62,170.91 264.39,175.71 266.2,178.1 C268.01,180.49 275.32,192.36 277.7,194.6 C280.08,196.84 288.17,199.62 290,200.5 C291.83,201.38 293,203.15 296,203.4 C299,203.65 314.8,203.02 320,203 C325.2,202.98 345.2,203.1 348,203.2 C350.8,203.3 350.8,203.9 348,204 C345.2,204.1 325.2,204.06 320,204.2 C314.8,204.34 299,205.22 296,205.4 C293,205.58 291.5,205.55 290,206 C288.5,206.45 283.22,208.52 281,209.9 C278.78,211.28 269.94,217.16 267.8,219.8 C265.66,222.44 260.92,234.4 259.6,236.3 C258.28,238.2 255.59,239.63 254.6,238.8 C253.61,237.97 250.69,229.73 249.7,228 C248.71,226.27 246.02,222.24 244.7,221.5 C243.38,220.76 237.98,219.95 236.5,220.6 C235.02,221.25 230.8,226.06 229.9,228 C229,229.94 227.83,237.7 227.5,240 C227.17,242.3 226.77,249.8 226.6,251 C226.43,252.2 225.88,251.9 225.8,252Z" stroke="none" stroke-width="1" fill="#7f9cd1" stroke-linejoin="round" />
<path d="M226.6,261.1 C226.51,259.89 225.99,256.24 225.9,252 C225.81,247.76 225.78,236.9 225.9,229.3 C226.02,221.7 226.49,203.36 226.8,195 C227.11,186.64 227.83,168.33 228.2,166.6 C228.57,164.87 229.27,178.71 229.6,182 C229.93,185.29 229.13,190.27 230.7,191.3 C232.27,192.33 238.87,190.58 241.4,189.7 C243.93,188.82 247.94,187.13 249.7,184.7 C251.46,182.27 253.4,174.25 254.6,171.5 C255.8,168.75 257.59,164.65 258.7,164.1 C259.81,163.55 261.46,165.09 262.9,167.4 C264.34,169.71 267.09,178.11 269.5,181.4 C271.91,184.69 277.67,189.77 281,192.1 C284.33,194.43 291.73,197.7 294.5,198.9 C297.27,200.1 297.92,200.71 301.8,201.1 C305.68,201.49 317.49,201.73 323.6,201.8 C329.71,201.87 344.4,201.4 347.6,201.6 C350.8,201.8 350.88,202.99 347.6,203.3 C344.32,203.61 328.13,203.71 323,203.9 C317.87,204.09 312.9,204.3 309.1,204.7 C305.3,205.1 298.25,205.77 294.5,206.9 C290.75,208.03 284.33,210.81 281,213.2 C277.67,215.59 272.03,221.72 269.5,224.8 C266.97,227.88 263.88,233.55 262,236.3 C260.12,239.05 256.93,244.73 255.4,245.4 C253.87,246.07 251.93,242.95 250.5,241.3 C249.07,239.65 246.57,234.32 244.7,233 C242.83,231.68 238.37,231.17 236.5,231.4 C234.63,231.63 231.81,232.73 230.7,234.7 C229.59,236.67 228.75,242.68 228.2,246.2 C227.65,249.72 226.81,259.11 226.6,261.1" stroke="#eeb43c" stroke-width="1.25" fill="none" stroke-linejoin="round" />
<rect x="214.5" y="152.4" width="144.1" height="116.6" fill="none" stroke="#505050" stroke-width="1.15"/>
<line x1="225" y1="269" x2="225" y2="271.2" stroke="#505050" stroke-width="0.8" />
<text transform="translate(225,277.6)" font-size="6.9" text-anchor="middle" fill="#2a2a2a" stroke="#2a2a2a" stroke-width="0.2" >0.0</text>
<line x1="245.6" y1="269" x2="245.6" y2="271.2" stroke="#505050" stroke-width="0.8" />
<text transform="translate(245.6,277.6)" font-size="6.9" text-anchor="middle" fill="#2a2a2a" stroke="#2a2a2a" stroke-width="0.2" >0.5</text>
<line x1="266.2" y1="269" x2="266.2" y2="271.2" stroke="#505050" stroke-width="0.8" />
<text transform="translate(266.2,277.6)" font-size="6.9" text-anchor="middle" fill="#2a2a2a" stroke="#2a2a2a" stroke-width="0.2" >1.0</text>
<line x1="286.8" y1="269" x2="286.8" y2="271.2" stroke="#505050" stroke-width="0.8" />
<text transform="translate(286.8,277.6)" font-size="6.9" text-anchor="middle" fill="#2a2a2a" stroke="#2a2a2a" stroke-width="0.2" >1.5</text>
<line x1="307.4" y1="269" x2="307.4" y2="271.2" stroke="#505050" stroke-width="0.8" />
<text transform="translate(307.4,277.6)" font-size="6.9" text-anchor="middle" fill="#2a2a2a" stroke="#2a2a2a" stroke-width="0.2" >2.0</text>
<line x1="328" y1="269" x2="328" y2="271.2" stroke="#505050" stroke-width="0.8" />
<text transform="translate(328,277.6)" font-size="6.9" text-anchor="middle" fill="#2a2a2a" stroke="#2a2a2a" stroke-width="0.2" >2.5</text>
<line x1="348.6" y1="269" x2="348.6" y2="271.2" stroke="#505050" stroke-width="0.8" />
<text transform="translate(348.6,277.6)" font-size="6.9" text-anchor="middle" fill="#2a2a2a" stroke="#2a2a2a" stroke-width="0.2" >3.0</text>
<line x1="214.7" y1="269" x2="214.7" y2="270.32" stroke="#505050" stroke-width="0.7" />
<line x1="235.3" y1="269" x2="235.3" y2="270.32" stroke="#505050" stroke-width="0.7" />
<line x1="255.9" y1="269" x2="255.9" y2="270.32" stroke="#505050" stroke-width="0.7" />
<line x1="276.5" y1="269" x2="276.5" y2="270.32" stroke="#505050" stroke-width="0.7" />
<line x1="297.1" y1="269" x2="297.1" y2="270.32" stroke="#505050" stroke-width="0.7" />
<line x1="317.7" y1="269" x2="317.7" y2="270.32" stroke="#505050" stroke-width="0.7" />
<line x1="338.3" y1="269" x2="338.3" y2="270.32" stroke="#505050" stroke-width="0.7" />
<line x1="358.9" y1="269" x2="358.9" y2="270.32" stroke="#505050" stroke-width="0.7" />
<line x1="212.3" y1="152.4" x2="214.5" y2="152.4" stroke="#505050" stroke-width="0.8" />
<text transform="translate(211,154.4)" font-size="6.9" text-anchor="end" fill="#2a2a2a" stroke="#2a2a2a" stroke-width="0.2" >1.0</text>
<line x1="212.3" y1="178.4" x2="214.5" y2="178.4" stroke="#505050" stroke-width="0.8" />
<text transform="translate(211,180.4)" font-size="6.9" text-anchor="end" fill="#2a2a2a" stroke="#2a2a2a" stroke-width="0.2" >0.5</text>
<line x1="212.3" y1="204.4" x2="214.5" y2="204.4" stroke="#505050" stroke-width="0.8" />
<text transform="translate(211,206.4)" font-size="6.9" text-anchor="end" fill="#2a2a2a" stroke="#2a2a2a" stroke-width="0.2" >0.0</text>
<line x1="212.3" y1="230.4" x2="214.5" y2="230.4" stroke="#505050" stroke-width="0.8" />
<text transform="translate(211,232.4)" font-size="6.9" text-anchor="end" fill="#2a2a2a" stroke="#2a2a2a" stroke-width="0.2" >-0.5</text>
<line x1="212.3" y1="256.4" x2="214.5" y2="256.4" stroke="#505050" stroke-width="0.8" />
<text transform="translate(211,258.4)" font-size="6.9" text-anchor="end" fill="#2a2a2a" stroke="#2a2a2a" stroke-width="0.2" >-1.0</text>
<line x1="213.18" y1="165.4" x2="214.5" y2="165.4" stroke="#505050" stroke-width="0.7" />
<line x1="213.18" y1="191.4" x2="214.5" y2="191.4" stroke="#505050" stroke-width="0.7" />
<line x1="213.18" y1="217.4" x2="214.5" y2="217.4" stroke="#505050" stroke-width="0.7" />
<line x1="213.18" y1="243.4" x2="214.5" y2="243.4" stroke="#505050" stroke-width="0.7" />
<line x1="213.18" y1="269.4" x2="214.5" y2="269.4" stroke="#505050" stroke-width="0.7" />
<text transform="translate(285.5,291)" font-size="8.35" text-anchor="middle" fill="#2a2a2a" stroke="#2a2a2a" stroke-width="0.24" >Potential (V vs Na/Na<tspan dy="-3.5" font-size="5">+</tspan><tspan dy="3.5">)</tspan></text>
<text transform="translate(194.5,209) rotate(-90)" font-size="8.5" text-anchor="middle" fill="#2a2a2a" stroke="#2a2a2a" stroke-width="0.24" >Current (mA)</text>
<text transform="translate(183.5,154)" font-size="13" text-anchor="start" fill="#2a2a2a" stroke="#2a2a2a" stroke-width="0.4" >(e)</text>
<text transform="translate(355.5,162.5)" font-size="6.8" text-anchor="end" fill="#2a2a2a" stroke="#2a2a2a" stroke-width="0.25" >THF</text>
<text transform="translate(312,233.8)" font-size="7.3" text-anchor="middle" fill="#2a2a2a" stroke="#2a2a2a" stroke-width="0.3" >1.0 mV s<tspan dy="-2.8" font-size="4.6">-1</tspan></text>
<text transform="translate(263.2,206.8) scale(1,1.15)" font-size="6.9" text-anchor="middle" fill="#2a2a2a" stroke="#2a2a2a" stroke-width="0.25" >70.4%</text>
<rect x="413" y="188" width="17" height="63.45" fill="#e29c00" stroke="none" stroke-width="1"/>
<rect x="413" y="251.45" width="17" height="20.15" fill="#87a4d7" stroke="none" stroke-width="1"/>
<text transform="translate(421.5,258.45)" font-size="6.2" text-anchor="middle" fill="#2a2a2a" stroke="#2a2a2a" stroke-width="0.15" >24.1%</text>
<rect x="434" y="188" width="17" height="57.68" fill="#e29c00" stroke="none" stroke-width="1"/>
<rect x="434" y="245.68" width="17" height="25.92" fill="#87a4d7" stroke="none" stroke-width="1"/>
<text transform="translate(442.5,252.68)" font-size="6.2" text-anchor="middle" fill="#2a2a2a" stroke="#2a2a2a" stroke-width="0.15" >31%</text>
<rect x="454.6" y="188" width="17" height="54.42" fill="#e29c00" stroke="none" stroke-width="1"/>
<rect x="454.6" y="242.42" width="17" height="29.18" fill="#87a4d7" stroke="none" stroke-width="1"/>
<text transform="translate(463.1,249.42)" font-size="6.2" text-anchor="middle" fill="#2a2a2a" stroke="#2a2a2a" stroke-width="0.15" >34.9%</text>
<rect x="475.6" y="188" width="17" height="52.84" fill="#e29c00" stroke="none" stroke-width="1"/>
<rect x="475.6" y="240.84" width="17" height="30.76" fill="#87a4d7" stroke="none" stroke-width="1"/>
<text transform="translate(484.1,247.84)" font-size="6.2" text-anchor="middle" fill="#2a2a2a" stroke="#2a2a2a" stroke-width="0.15" >36.8%</text>
<rect x="496.4" y="188" width="17" height="50.66" fill="#e29c00" stroke="none" stroke-width="1"/>
<rect x="496.4" y="238.66" width="17" height="32.94" fill="#87a4d7" stroke="none" stroke-width="1"/>
<text transform="translate(504.9,245.66)" font-size="6.2" text-anchor="middle" fill="#2a2a2a" stroke="#2a2a2a" stroke-width="0.15" >39.4%</text>
<rect x="517" y="188" width="17" height="41.21" fill="#e29c00" stroke="none" stroke-width="1"/>
<rect x="517" y="229.21" width="17" height="42.39" fill="#87a4d7" stroke="none" stroke-width="1"/>
<text transform="translate(525.5,236.21)" font-size="6.2" text-anchor="middle" fill="#2a2a2a" stroke="#2a2a2a" stroke-width="0.15" >50.7%</text>
<rect x="400.4" y="154.4" width="145.9" height="117.2" fill="none" stroke="#505050" stroke-width="1.15"/>
<line x1="423" y1="271.6" x2="423" y2="271.6" stroke="#505050" stroke-width="0.8" />
<text transform="translate(423,280.6)" font-size="6.9" text-anchor="middle" fill="#2a2a2a" stroke="#2a2a2a" stroke-width="0.2" >0.2</text>
<line x1="444" y1="271.6" x2="444" y2="271.6" stroke="#505050" stroke-width="0.8" />
<text transform="translate(444,280.6)" font-size="6.9" text-anchor="middle" fill="#2a2a2a" stroke="#2a2a2a" stroke-width="0.2" >0.4</text>
<line x1="464.6" y1="271.6" x2="464.6" y2="271.6" stroke="#505050" stroke-width="0.8" />
<text transform="translate(464.6,280.6)" font-size="6.9" text-anchor="middle" fill="#2a2a2a" stroke="#2a2a2a" stroke-width="0.2" >0.6</text>
<line x1="485.6" y1="271.6" x2="485.6" y2="271.6" stroke="#505050" stroke-width="0.8" />
<text transform="translate(485.6,280.6)" font-size="6.9" text-anchor="middle" fill="#2a2a2a" stroke="#2a2a2a" stroke-width="0.2" >0.8</text>
<line x1="506.4" y1="271.6" x2="506.4" y2="271.6" stroke="#505050" stroke-width="0.8" />
<text transform="translate(506.4,280.6)" font-size="6.9" text-anchor="middle" fill="#2a2a2a" stroke="#2a2a2a" stroke-width="0.2" >1.0</text>
<line x1="527" y1="271.6" x2="527" y2="271.6" stroke="#505050" stroke-width="0.8" />
<text transform="translate(527,280.6)" font-size="6.9" text-anchor="middle" fill="#2a2a2a" stroke="#2a2a2a" stroke-width="0.2" >2.0</text>
<line x1="398.2" y1="271.6" x2="400.4" y2="271.6" stroke="#505050" stroke-width="0.8" />
<text transform="translate(397,273.6)" font-size="6.9" text-anchor="end" fill="#2a2a2a" stroke="#2a2a2a" stroke-width="0.2" >0</text>
<line x1="398.2" y1="254.88" x2="400.4" y2="254.88" stroke="#505050" stroke-width="0.8" />
<text transform="translate(397,256.88)" font-size="6.9" text-anchor="end" fill="#2a2a2a" stroke="#2a2a2a" stroke-width="0.2" >20</text>
<line x1="398.2" y1="238.16" x2="400.4" y2="238.16" stroke="#505050" stroke-width="0.8" />
<text transform="translate(397,240.16)" font-size="6.9" text-anchor="end" fill="#2a2a2a" stroke="#2a2a2a" stroke-width="0.2" >40</text>
<line x1="398.2" y1="221.44" x2="400.4" y2="221.44" stroke="#505050" stroke-width="0.8" />
<text transform="translate(397,223.44)" font-size="6.9" text-anchor="end" fill="#2a2a2a" stroke="#2a2a2a" stroke-width="0.2" >60</text>
<line x1="398.2" y1="204.72" x2="400.4" y2="204.72" stroke="#505050" stroke-width="0.8" />
<text transform="translate(397,206.72)" font-size="6.9" text-anchor="end" fill="#2a2a2a" stroke="#2a2a2a" stroke-width="0.2" >80</text>
<line x1="398.2" y1="188" x2="400.4" y2="188" stroke="#505050" stroke-width="0.8" />
<text transform="translate(397,190)" font-size="6.9" text-anchor="end" fill="#2a2a2a" stroke="#2a2a2a" stroke-width="0.2" >100</text>
<line x1="398.2" y1="171.28" x2="400.4" y2="171.28" stroke="#505050" stroke-width="0.8" />
<text transform="translate(397,173.28)" font-size="6.9" text-anchor="end" fill="#2a2a2a" stroke="#2a2a2a" stroke-width="0.2" >120</text>
<line x1="398.2" y1="154.56" x2="400.4" y2="154.56" stroke="#505050" stroke-width="0.8" />
<text transform="translate(397,156.56)" font-size="6.9" text-anchor="end" fill="#2a2a2a" stroke="#2a2a2a" stroke-width="0.2" >140</text>
<line x1="399.08" y1="263.24" x2="400.4" y2="263.24" stroke="#505050" stroke-width="0.7" />
<line x1="399.08" y1="246.52" x2="400.4" y2="246.52" stroke="#505050" stroke-width="0.7" />
<line x1="399.08" y1="229.8" x2="400.4" y2="229.8" stroke="#505050" stroke-width="0.7" />
<line x1="399.08" y1="213.08" x2="400.4" y2="213.08" stroke="#505050" stroke-width="0.7" />
<line x1="399.08" y1="196.36" x2="400.4" y2="196.36" stroke="#505050" stroke-width="0.7" />
<line x1="399.08" y1="179.64" x2="400.4" y2="179.64" stroke="#505050" stroke-width="0.7" />
<line x1="399.08" y1="162.92" x2="400.4" y2="162.92" stroke="#505050" stroke-width="0.7" />
<text transform="translate(469.5,292)" font-size="8.35" text-anchor="middle" fill="#2a2a2a" stroke="#2a2a2a" stroke-width="0.24" >Scan rate&#160; (mV s<tspan dy="-3.5" font-size="5">-1</tspan><tspan dy="3.5">)</tspan></text>
<text transform="translate(382,216.8) rotate(-90)" font-size="8.2" text-anchor="middle" fill="#2a2a2a" stroke="#2a2a2a" stroke-width="0.24" >Capacitive contribution (%)</text>
<text transform="translate(364.5,154)" font-size="13" text-anchor="start" fill="#2a2a2a" stroke="#2a2a2a" stroke-width="0.4" >(f)</text>
<text transform="translate(404,164)" font-size="6.8" text-anchor="start" fill="#2a2a2a" stroke="#2a2a2a" stroke-width="0.25" >EC/DEC</text>
<rect x="495" y="156" width="14.6" height="7" fill="#e29c00" stroke="none" stroke-width="1"/>
<rect x="495" y="164.4" width="14.6" height="7.2" fill="#87a4d7" stroke="none" stroke-width="1"/>
<text transform="translate(513,161.8)" font-size="6.6" text-anchor="start" fill="#2a2a2a" stroke="#2a2a2a" stroke-width="0.25" >Diffusion</text>
<text transform="translate(513,170.4)" font-size="6.6" text-anchor="start" fill="#2a2a2a" stroke="#2a2a2a" stroke-width="0.25" >Capacitive</text>
<rect x="51" y="338.4" width="16.8" height="39.24" fill="#e29c00" stroke="none" stroke-width="1"/>
<rect x="51" y="377.64" width="16.8" height="44.96" fill="#87a4d7" stroke="none" stroke-width="1"/>
<text transform="translate(59.4,384.64)" font-size="6.2" text-anchor="middle" fill="#2a2a2a" stroke="#2a2a2a" stroke-width="0.15" >53.4%</text>
<rect x="71.6" y="338.4" width="16.8" height="34.35" fill="#e29c00" stroke="none" stroke-width="1"/>
<rect x="71.6" y="372.75" width="16.8" height="49.85" fill="#87a4d7" stroke="none" stroke-width="1"/>
<text transform="translate(80,379.75)" font-size="6.2" text-anchor="middle" fill="#2a2a2a" stroke="#2a2a2a" stroke-width="0.15" >59.2%</text>
<rect x="92.6" y="338.4" width="16.8" height="33.34" fill="#e29c00" stroke="none" stroke-width="1"/>
<rect x="92.6" y="371.74" width="16.8" height="50.86" fill="#87a4d7" stroke="none" stroke-width="1"/>
<text transform="translate(101,378.74)" font-size="6.2" text-anchor="middle" fill="#2a2a2a" stroke="#2a2a2a" stroke-width="0.15" >60.4%</text>
<rect x="113.6" y="338.4" width="16.8" height="28.12" fill="#e29c00" stroke="none" stroke-width="1"/>
<rect x="113.6" y="366.52" width="16.8" height="56.08" fill="#87a4d7" stroke="none" stroke-width="1"/>
<text transform="translate(122,373.52)" font-size="6.2" text-anchor="middle" fill="#2a2a2a" stroke="#2a2a2a" stroke-width="0.15" >66.6%</text>
<rect x="134.4" y="338.4" width="16.8" height="24.92" fill="#e29c00" stroke="none" stroke-width="1"/>
<rect x="134.4" y="363.32" width="16.8" height="59.28" fill="#87a4d7" stroke="none" stroke-width="1"/>
<text transform="translate(142.8,370.32)" font-size="6.2" text-anchor="middle" fill="#2a2a2a" stroke="#2a2a2a" stroke-width="0.15" >70.4%</text>
<rect x="155.6" y="338.4" width="16.8" height="19.11" fill="#e29c00" stroke="none" stroke-width="1"/>
<rect x="155.6" y="357.51" width="16.8" height="65.09" fill="#87a4d7" stroke="none" stroke-width="1"/>
<text transform="translate(164,364.51)" font-size="6.2" text-anchor="middle" fill="#2a2a2a" stroke="#2a2a2a" stroke-width="0.15" >77.3%</text>
<rect x="38.2" y="304.4" width="146.6" height="118.4" fill="none" stroke="#505050" stroke-width="1.15"/>
<line x1="60.2" y1="422.8" x2="60.2" y2="422.8" stroke="#505050" stroke-width="0.8" />
<text transform="translate(60.2,431.5)" font-size="6.9" text-anchor="middle" fill="#2a2a2a" stroke="#2a2a2a" stroke-width="0.2" >0.2</text>
<line x1="80.8" y1="422.8" x2="80.8" y2="422.8" stroke="#505050" stroke-width="0.8" />
<text transform="translate(80.8,431.5)" font-size="6.9" text-anchor="middle" fill="#2a2a2a" stroke="#2a2a2a" stroke-width="0.2" >0.4</text>
<line x1="101.8" y1="422.8" x2="101.8" y2="422.8" stroke="#505050" stroke-width="0.8" />
<text transform="translate(101.8,431.5)" font-size="6.9" text-anchor="middle" fill="#2a2a2a" stroke="#2a2a2a" stroke-width="0.2" >0.6</text>
<line x1="122.8" y1="422.8" x2="122.8" y2="422.8" stroke="#505050" stroke-width="0.8" />
<text transform="translate(122.8,431.5)" font-size="6.9" text-anchor="middle" fill="#2a2a2a" stroke="#2a2a2a" stroke-width="0.2" >0.8</text>
<line x1="143.6" y1="422.8" x2="143.6" y2="422.8" stroke="#505050" stroke-width="0.8" />
<text transform="translate(143.6,431.5)" font-size="6.9" text-anchor="middle" fill="#2a2a2a" stroke="#2a2a2a" stroke-width="0.2" >1.0</text>
<line x1="164.8" y1="422.8" x2="164.8" y2="422.8" stroke="#505050" stroke-width="0.8" />
<text transform="translate(164.8,431.5)" font-size="6.9" text-anchor="middle" fill="#2a2a2a" stroke="#2a2a2a" stroke-width="0.2" >2.0</text>
<line x1="36" y1="422.6" x2="38.2" y2="422.6" stroke="#505050" stroke-width="0.8" />
<text transform="translate(34.5,424.6)" font-size="6.9" text-anchor="end" fill="#2a2a2a" stroke="#2a2a2a" stroke-width="0.2" >0</text>
<line x1="36" y1="405.76" x2="38.2" y2="405.76" stroke="#505050" stroke-width="0.8" />
<text transform="translate(34.5,407.76)" font-size="6.9" text-anchor="end" fill="#2a2a2a" stroke="#2a2a2a" stroke-width="0.2" >20</text>
<line x1="36" y1="388.92" x2="38.2" y2="388.92" stroke="#505050" stroke-width="0.8" />
<text transform="translate(34.5,390.92)" font-size="6.9" text-anchor="end" fill="#2a2a2a" stroke="#2a2a2a" stroke-width="0.2" >40</text>
<line x1="36" y1="372.08" x2="38.2" y2="372.08" stroke="#505050" stroke-width="0.8" />
<text transform="translate(34.5,374.08)" font-size="6.9" text-anchor="end" fill="#2a2a2a" stroke="#2a2a2a" stroke-width="0.2" >60</text>
<line x1="36" y1="355.24" x2="38.2" y2="355.24" stroke="#505050" stroke-width="0.8" />
<text transform="translate(34.5,357.24)" font-size="6.9" text-anchor="end" fill="#2a2a2a" stroke="#2a2a2a" stroke-width="0.2" >80</text>
<line x1="36" y1="338.4" x2="38.2" y2="338.4" stroke="#505050" stroke-width="0.8" />
<text transform="translate(34.5,340.4)" font-size="6.9" text-anchor="end" fill="#2a2a2a" stroke="#2a2a2a" stroke-width="0.2" >100</text>
<line x1="36" y1="321.56" x2="38.2" y2="321.56" stroke="#505050" stroke-width="0.8" />
<text transform="translate(34.5,323.56)" font-size="6.9" text-anchor="end" fill="#2a2a2a" stroke="#2a2a2a" stroke-width="0.2" >120</text>
<line x1="36" y1="304.72" x2="38.2" y2="304.72" stroke="#505050" stroke-width="0.8" />
<text transform="translate(34.5,306.72)" font-size="6.9" text-anchor="end" fill="#2a2a2a" stroke="#2a2a2a" stroke-width="0.2" >140</text>
<line x1="36.88" y1="414.18" x2="38.2" y2="414.18" stroke="#505050" stroke-width="0.7" />
<line x1="36.88" y1="397.34" x2="38.2" y2="397.34" stroke="#505050" stroke-width="0.7" />
<line x1="36.88" y1="380.5" x2="38.2" y2="380.5" stroke="#505050" stroke-width="0.7" />
<line x1="36.88" y1="363.66" x2="38.2" y2="363.66" stroke="#505050" stroke-width="0.7" />
<line x1="36.88" y1="346.82" x2="38.2" y2="346.82" stroke="#505050" stroke-width="0.7" />
<line x1="36.88" y1="329.98" x2="38.2" y2="329.98" stroke="#505050" stroke-width="0.7" />
<line x1="36.88" y1="313.14" x2="38.2" y2="313.14" stroke="#505050" stroke-width="0.7" />
<text transform="translate(114.5,444)" font-size="8.35" text-anchor="middle" fill="#2a2a2a" stroke="#2a2a2a" stroke-width="0.24" >Scan rate&#160; (mV s<tspan dy="-3.5" font-size="5">-1</tspan><tspan dy="3.5">)</tspan></text>
<text transform="translate(18.5,367) rotate(-90)" font-size="8.2" text-anchor="middle" fill="#2a2a2a" stroke="#2a2a2a" stroke-width="0.24" >Capacitive contribution (%)</text>
<text transform="translate(3.6,311)" font-size="13" text-anchor="start" fill="#2a2a2a" stroke="#2a2a2a" stroke-width="0.4" >(g)</text>
<text transform="translate(43,315)" font-size="6.8" text-anchor="start" fill="#2a2a2a" stroke="#2a2a2a" stroke-width="0.25" >THF</text>
<rect x="134.4" y="307" width="15" height="7" fill="#e29c00" stroke="none" stroke-width="1"/>
<rect x="134.4" y="315" width="15" height="7.4" fill="#87a4d7" stroke="none" stroke-width="1"/>
<text transform="translate(153,313)" font-size="6.6" text-anchor="start" fill="#2a2a2a" stroke="#2a2a2a" stroke-width="0.25" >Diffusion</text>
<text transform="translate(153,321.8)" font-size="6.6" text-anchor="start" fill="#2a2a2a" stroke="#2a2a2a" stroke-width="0.25" >Capacitive</text>
<polyline points="221.2,328.4 222.5,342 224,349.5 227.5,353 230.3,360.8 232.2,345 234.5,305.6 238,360.8 240.5,340 242.6,305.6 246.9,360.8 248.8,335 250.4,305.6 251.4,330 252,332" stroke="#7c9ad8" stroke-width="0.75" fill="none" stroke-linejoin="round" />
<path d="M252,332 C252.42,332.95 253.32,335.92 254.5,337.7 C255.68,339.48 256.82,340.95 259.1,342.7 C261.38,344.45 265.17,346.6 268.2,348.2 C271.23,349.8 274.27,351.17 277.3,352.3 C280.33,353.43 282.62,354.02 286.4,355 C290.18,355.98 295.45,357.27 300,358.2 C304.55,359.13 310.95,360.13 313.7,360.6 C316.45,361.07 315.33,361.67 316.5,361 C317.67,360.33 318.82,358.52 320.7,356.6 C322.58,354.68 324.87,351.85 327.8,349.5 C330.73,347.15 334.78,344.83 338.3,342.5 C341.82,340.17 346.25,337.85 348.9,335.5 C351.55,333.15 352.85,330.15 354.2,328.4 C355.55,326.65 356.53,325.57 357,325" stroke="#7c9ad8" stroke-width="1.4" fill="none" stroke-linejoin="round" />
<polyline points="357,325 357.4,318 357.7,305.6" stroke="#7497da" stroke-width="0.9" fill="none" stroke-linejoin="round" />
<polyline points="221.2,411.1 224,420 227.5,427 229.5,400 231,370.7 234.5,427 236.8,400 238.8,370.7 242.3,427 244.2,400 245.8,370.7 246.9,397 250.4,402.3" stroke="#f6ac78" stroke-width="0.75" fill="none" stroke-linejoin="round" />
<path d="M250.4,402.3 C251.32,403.52 253.17,407.57 255.9,409.6 C258.63,411.63 263.17,412.77 266.8,414.5 C270.43,416.23 273.52,418 277.7,420 C281.88,422 288.27,426.77 291.9,426.5 C295.53,426.23 297.32,420.4 299.5,418.4 C301.68,416.4 302.92,415.9 305,414.5 C307.08,413.1 309.5,411.42 312,410 C314.5,408.58 317.42,408.05 320,406 C322.58,403.95 325.48,400.03 327.5,397.7 C329.52,395.37 331.02,393.88 332.1,392 C333.18,390.12 333.68,387.33 334,386.4" stroke="#f6ac78" stroke-width="1.4" fill="none" stroke-linejoin="round" />
<polyline points="334,386.4 334.4,377 334.8,388 336.2,370.6 336.7,390 337.1,389" stroke="#f5a46a" stroke-width="0.9" fill="none" stroke-linejoin="round" />
<rect x="221" y="301" width="141.4" height="130" fill="none" stroke="#505050" stroke-width="1.15"/>
<line x1="221" y1="366" x2="362.4" y2="366" stroke="#505050" stroke-width="1.0" />
<line x1="221" y1="431" x2="221" y2="433.2" stroke="#505050" stroke-width="0.8" />
<text transform="translate(221,440.5)" font-size="6.9" text-anchor="middle" fill="#2a2a2a" stroke="#2a2a2a" stroke-width="0.2" >0</text>
<line x1="249.2" y1="431" x2="249.2" y2="433.2" stroke="#505050" stroke-width="0.8" />
<text transform="translate(249.2,440.5)" font-size="6.9" text-anchor="middle" fill="#2a2a2a" stroke="#2a2a2a" stroke-width="0.2" >40</text>
<line x1="277.4" y1="431" x2="277.4" y2="433.2" stroke="#505050" stroke-width="0.8" />
<text transform="translate(277.4,440.5)" font-size="6.9" text-anchor="middle" fill="#2a2a2a" stroke="#2a2a2a" stroke-width="0.2" >80</text>
<line x1="305.6" y1="431" x2="305.6" y2="433.2" stroke="#505050" stroke-width="0.8" />
<text transform="translate(305.6,440.5)" font-size="6.9" text-anchor="middle" fill="#2a2a2a" stroke="#2a2a2a" stroke-width="0.2" >120</text>
<line x1="333.8" y1="431" x2="333.8" y2="433.2" stroke="#505050" stroke-width="0.8" />
<text transform="translate(333.8,440.5)" font-size="6.9" text-anchor="middle" fill="#2a2a2a" stroke="#2a2a2a" stroke-width="0.2" >160</text>
<line x1="362" y1="431" x2="362" y2="433.2" stroke="#505050" stroke-width="0.8" />
<text transform="translate(362,440.5)" font-size="6.9" text-anchor="middle" fill="#2a2a2a" stroke="#2a2a2a" stroke-width="0.2" >200</text>
<line x1="235.1" y1="431" x2="235.1" y2="432.32" stroke="#505050" stroke-width="0.7" />
<line x1="263.3" y1="431" x2="263.3" y2="432.32" stroke="#505050" stroke-width="0.7" />
<line x1="291.5" y1="431" x2="291.5" y2="432.32" stroke="#505050" stroke-width="0.7" />
<line x1="319.7" y1="431" x2="319.7" y2="432.32" stroke="#505050" stroke-width="0.7" />
<line x1="347.9" y1="431" x2="347.9" y2="432.32" stroke="#505050" stroke-width="0.7" />
<line x1="221" y1="366" x2="221" y2="368" stroke="#505050" stroke-width="0.7" />
<line x1="235.1" y1="366" x2="235.1" y2="367.3" stroke="#505050" stroke-width="0.7" />
<line x1="249.2" y1="366" x2="249.2" y2="368" stroke="#505050" stroke-width="0.7" />
<line x1="263.3" y1="366" x2="263.3" y2="367.3" stroke="#505050" stroke-width="0.7" />
<line x1="277.4" y1="366" x2="277.4" y2="368" stroke="#505050" stroke-width="0.7" />
<line x1="291.5" y1="366" x2="291.5" y2="367.3" stroke="#505050" stroke-width="0.7" />
<line x1="305.6" y1="366" x2="305.6" y2="368" stroke="#505050" stroke-width="0.7" />
<line x1="319.7" y1="366" x2="319.7" y2="367.3" stroke="#505050" stroke-width="0.7" />
<line x1="333.8" y1="366" x2="333.8" y2="368" stroke="#505050" stroke-width="0.7" />
<line x1="347.9" y1="366" x2="347.9" y2="367.3" stroke="#505050" stroke-width="0.7" />
<line x1="362" y1="366" x2="362" y2="368" stroke="#505050" stroke-width="0.7" />
<line x1="218.8" y1="305" x2="221" y2="305" stroke="#505050" stroke-width="0.8" />
<text transform="translate(217.5,307)" font-size="6.9" text-anchor="end" fill="#2a2a2a" stroke="#2a2a2a" stroke-width="0.2" >3</text>
<line x1="218.8" y1="323.8" x2="221" y2="323.8" stroke="#505050" stroke-width="0.8" />
<text transform="translate(217.5,325.8)" font-size="6.9" text-anchor="end" fill="#2a2a2a" stroke="#2a2a2a" stroke-width="0.2" >2</text>
<line x1="218.8" y1="342.6" x2="221" y2="342.6" stroke="#505050" stroke-width="0.8" />
<text transform="translate(217.5,344.6)" font-size="6.9" text-anchor="end" fill="#2a2a2a" stroke="#2a2a2a" stroke-width="0.2" >1</text>
<line x1="218.8" y1="361.4" x2="221" y2="361.4" stroke="#505050" stroke-width="0.8" />
<text transform="translate(217.5,363.4)" font-size="6.9" text-anchor="end" fill="#2a2a2a" stroke="#2a2a2a" stroke-width="0.2" >0</text>
<line x1="218.8" y1="370" x2="221" y2="370" stroke="#505050" stroke-width="0.8" />
<text transform="translate(217.5,372)" font-size="6.9" text-anchor="end" fill="#2a2a2a" stroke="#2a2a2a" stroke-width="0.2" >3</text>
<line x1="218.8" y1="389" x2="221" y2="389" stroke="#505050" stroke-width="0.8" />
<text transform="translate(217.5,391)" font-size="6.9" text-anchor="end" fill="#2a2a2a" stroke="#2a2a2a" stroke-width="0.2" >2</text>
<line x1="218.8" y1="408" x2="221" y2="408" stroke="#505050" stroke-width="0.8" />
<text transform="translate(217.5,410)" font-size="6.9" text-anchor="end" fill="#2a2a2a" stroke="#2a2a2a" stroke-width="0.2" >1</text>
<line x1="218.8" y1="427" x2="221" y2="427" stroke="#505050" stroke-width="0.8" />
<text transform="translate(217.5,429)" font-size="6.9" text-anchor="end" fill="#2a2a2a" stroke="#2a2a2a" stroke-width="0.2" >0</text>
<text transform="translate(296,451)" font-size="8.5" text-anchor="middle" fill="#2a2a2a" stroke="#2a2a2a" stroke-width="0.24" >Time (h)</text>
<text transform="translate(207.5,370) rotate(-90)" font-size="8.5" text-anchor="middle" fill="#2a2a2a" stroke="#2a2a2a" stroke-width="0.24" >Voltage (V vs.Na<tspan dy="-3.5" font-size="5">+</tspan><tspan dy="3.5">/Na)</tspan></text>
<text transform="translate(189.3,309.7)" font-size="13" text-anchor="start" fill="#2a2a2a" stroke="#2a2a2a" stroke-width="0.4" >(h)</text>
<text transform="translate(360.5,362)" font-size="6.8" text-anchor="end" fill="#2a2a2a" stroke="#2a2a2a" stroke-width="0.25" >EC/DEC</text>
<text transform="translate(360.5,428.5)" font-size="6.8" text-anchor="end" fill="#2a2a2a" stroke="#2a2a2a" stroke-width="0.25" >THF</text>
<polyline points="424.4,350 429.6,343.6 436.4,346 444,343.6 453,338 462,334 469.6,331.6 477,331 484,330.6 492,330.6 502,331 517.6,330" stroke="#f5a060" stroke-width="0.8" fill="none" stroke-linejoin="round" />
<path d="M424.4,348.3 L426,351.1 L422.8,351.1Z" fill="#f5923e"/>
<path d="M429.6,341.9 L431.2,344.7 L428,344.7Z" fill="#f5923e"/>
<path d="M436.4,344.3 L438,347.1 L434.8,347.1Z" fill="#f5923e"/>
<path d="M444,341.9 L445.6,344.7 L442.4,344.7Z" fill="#f5923e"/>
<path d="M453,336.3 L454.6,339.1 L451.4,339.1Z" fill="#f5923e"/>
<path d="M462,332.3 L463.6,335.1 L460.4,335.1Z" fill="#f5923e"/>
<path d="M469.6,329.9 L471.2,332.7 L468,332.7Z" fill="#f5923e"/>
<path d="M477,329.3 L478.6,332.1 L475.4,332.1Z" fill="#f5923e"/>
<path d="M484,328.9 L485.6,331.7 L482.4,331.7Z" fill="#f5923e"/>
<path d="M492,328.9 L493.6,331.7 L490.4,331.7Z" fill="#f5923e"/>
<path d="M502,329.3 L503.6,332.1 L500.4,332.1Z" fill="#f5923e"/>
<path d="M517.6,328.3 L519.2,331.1 L516,331.1Z" fill="#f5923e"/>
<polyline points="423,355.6 426.4,353.6 429,355 433.6,355.6 440,355.6 445,354.4 450.4,352.6 456.6,349 463.6,343.6 470.4,340.4 477.6,338.4 485,337 493,335.6 504,335 520.4,333" stroke="#6d94dc" stroke-width="0.8" fill="none" stroke-linejoin="round" />
<rect x="421.8" y="354.4" width="2.4" height="2.4" fill="#4a78d0" stroke="none" stroke-width="1"/>
<rect x="425.2" y="352.4" width="2.4" height="2.4" fill="#4a78d0" stroke="none" stroke-width="1"/>
<rect x="427.8" y="353.8" width="2.4" height="2.4" fill="#4a78d0" stroke="none" stroke-width="1"/>
<rect x="432.4" y="354.4" width="2.4" height="2.4" fill="#4a78d0" stroke="none" stroke-width="1"/>
<rect x="438.8" y="354.4" width="2.4" height="2.4" fill="#4a78d0" stroke="none" stroke-width="1"/>
<rect x="443.8" y="353.2" width="2.4" height="2.4" fill="#4a78d0" stroke="none" stroke-width="1"/>
<rect x="449.2" y="351.4" width="2.4" height="2.4" fill="#4a78d0" stroke="none" stroke-width="1"/>
<rect x="455.4" y="347.8" width="2.4" height="2.4" fill="#4a78d0" stroke="none" stroke-width="1"/>
<rect x="462.4" y="342.4" width="2.4" height="2.4" fill="#4a78d0" stroke="none" stroke-width="1"/>
<rect x="469.2" y="339.2" width="2.4" height="2.4" fill="#4a78d0" stroke="none" stroke-width="1"/>
<rect x="476.4" y="337.2" width="2.4" height="2.4" fill="#4a78d0" stroke="none" stroke-width="1"/>
<rect x="483.8" y="335.8" width="2.4" height="2.4" fill="#4a78d0" stroke="none" stroke-width="1"/>
<rect x="491.8" y="334.4" width="2.4" height="2.4" fill="#4a78d0" stroke="none" stroke-width="1"/>
<rect x="502.8" y="333.8" width="2.4" height="2.4" fill="#4a78d0" stroke="none" stroke-width="1"/>
<rect x="519.2" y="331.8" width="2.4" height="2.4" fill="#4a78d0" stroke="none" stroke-width="1"/>
<polyline points="425,409 434.4,412 441,399.4 448,390.6 455.2,385 464,386.5 474.6,391.4 488,396.6 506,402 534,403.6" stroke="#f5a060" stroke-width="0.8" fill="none" stroke-linejoin="round" />
<path d="M425,407.3 L426.6,410.1 L423.4,410.1Z" fill="#f5923e"/>
<path d="M434.4,410.3 L436,413.1 L432.8,413.1Z" fill="#f5923e"/>
<path d="M441,397.7 L442.6,400.5 L439.4,400.5Z" fill="#f5923e"/>
<path d="M448,388.9 L449.6,391.7 L446.4,391.7Z" fill="#f5923e"/>
<path d="M455.2,383.3 L456.8,386.1 L453.6,386.1Z" fill="#f5923e"/>
<path d="M464,384.8 L465.6,387.6 L462.4,387.6Z" fill="#f5923e"/>
<path d="M474.6,389.7 L476.2,392.5 L473,392.5Z" fill="#f5923e"/>
<path d="M488,394.9 L489.6,397.7 L486.4,397.7Z" fill="#f5923e"/>
<path d="M506,400.3 L507.6,403.1 L504.4,403.1Z" fill="#f5923e"/>
<path d="M534,401.9 L535.6,404.7 L532.4,404.7Z" fill="#f5923e"/>
<polyline points="425,409.6 435,413.6 442,403.6 449.6,397.6 457.5,395 467,396 479.4,400 494.6,407.6 512.4,417.4 532.4,424.4" stroke="#6d94dc" stroke-width="0.8" fill="none" stroke-linejoin="round" />
<rect x="423.8" y="408.4" width="2.4" height="2.4" fill="#4a78d0" stroke="none" stroke-width="1"/>
<rect x="433.8" y="412.4" width="2.4" height="2.4" fill="#4a78d0" stroke="none" stroke-width="1"/>
<rect x="440.8" y="402.4" width="2.4" height="2.4" fill="#4a78d0" stroke="none" stroke-width="1"/>
<rect x="448.4" y="396.4" width="2.4" height="2.4" fill="#4a78d0" stroke="none" stroke-width="1"/>
<rect x="456.3" y="393.8" width="2.4" height="2.4" fill="#4a78d0" stroke="none" stroke-width="1"/>
<rect x="465.8" y="394.8" width="2.4" height="2.4" fill="#4a78d0" stroke="none" stroke-width="1"/>
<rect x="478.2" y="398.8" width="2.4" height="2.4" fill="#4a78d0" stroke="none" stroke-width="1"/>
<rect x="493.4" y="406.4" width="2.4" height="2.4" fill="#4a78d0" stroke="none" stroke-width="1"/>
<rect x="511.2" y="416.2" width="2.4" height="2.4" fill="#4a78d0" stroke="none" stroke-width="1"/>
<rect x="531.2" y="423.2" width="2.4" height="2.4" fill="#4a78d0" stroke="none" stroke-width="1"/>
<rect x="403" y="301.5" width="140.6" height="128.9" fill="none" stroke="#505050" stroke-width="1.15"/>
<line x1="403" y1="366" x2="543.6" y2="366" stroke="#505050" stroke-width="1.0" />
<line x1="419.7" y1="364" x2="419.7" y2="366" stroke="#505050" stroke-width="0.7" />
<text transform="translate(419.7,374.6)" font-size="6.9" text-anchor="middle" fill="#2a2a2a" stroke="#2a2a2a" stroke-width="0.2" >0.0</text>
<line x1="452.9" y1="364" x2="452.9" y2="366" stroke="#505050" stroke-width="0.7" />
<text transform="translate(452.9,374.6)" font-size="6.9" text-anchor="middle" fill="#2a2a2a" stroke="#2a2a2a" stroke-width="0.2" >0.4</text>
<line x1="486.1" y1="364" x2="486.1" y2="366" stroke="#505050" stroke-width="0.7" />
<text transform="translate(486.1,374.6)" font-size="6.9" text-anchor="middle" fill="#2a2a2a" stroke="#2a2a2a" stroke-width="0.2" >0.8</text>
<line x1="519.3" y1="364" x2="519.3" y2="366" stroke="#505050" stroke-width="0.7" />
<text transform="translate(519.3,374.6)" font-size="6.9" text-anchor="middle" fill="#2a2a2a" stroke="#2a2a2a" stroke-width="0.2" >1.2</text>
<line x1="436.3" y1="364.7" x2="436.3" y2="366" stroke="#505050" stroke-width="0.7" />
<line x1="469.5" y1="364.7" x2="469.5" y2="366" stroke="#505050" stroke-width="0.7" />
<line x1="502.7" y1="364.7" x2="502.7" y2="366" stroke="#505050" stroke-width="0.7" />
<line x1="535.9" y1="364.7" x2="535.9" y2="366" stroke="#505050" stroke-width="0.7" />
<line x1="411.6" y1="430.4" x2="411.6" y2="432.6" stroke="#505050" stroke-width="0.8" />
<text transform="translate(411.6,439)" font-size="6.9" text-anchor="middle" fill="#2a2a2a" stroke="#2a2a2a" stroke-width="0.2" >0.4</text>
<line x1="444.6" y1="430.4" x2="444.6" y2="432.6" stroke="#505050" stroke-width="0.8" />
<text transform="translate(444.6,439)" font-size="6.9" text-anchor="middle" fill="#2a2a2a" stroke="#2a2a2a" stroke-width="0.2" >0.8</text>
<line x1="477.6" y1="430.4" x2="477.6" y2="432.6" stroke="#505050" stroke-width="0.8" />
<text transform="translate(477.6,439)" font-size="6.9" text-anchor="middle" fill="#2a2a2a" stroke="#2a2a2a" stroke-width="0.2" >1.2</text>
<line x1="510.6" y1="430.4" x2="510.6" y2="432.6" stroke="#505050" stroke-width="0.8" />
<text transform="translate(510.6,439)" font-size="6.9" text-anchor="middle" fill="#2a2a2a" stroke="#2a2a2a" stroke-width="0.2" >1.6</text>
<line x1="543.6" y1="430.4" x2="543.6" y2="432.6" stroke="#505050" stroke-width="0.8" />
<text transform="translate(543.6,439)" font-size="6.9" text-anchor="middle" fill="#2a2a2a" stroke="#2a2a2a" stroke-width="0.2" >2.0</text>
<line x1="428.1" y1="430.4" x2="428.1" y2="431.72" stroke="#505050" stroke-width="0.7" />
<line x1="461.1" y1="430.4" x2="461.1" y2="431.72" stroke="#505050" stroke-width="0.7" />
<line x1="494.1" y1="430.4" x2="494.1" y2="431.72" stroke="#505050" stroke-width="0.7" />
<line x1="527.1" y1="430.4" x2="527.1" y2="431.72" stroke="#505050" stroke-width="0.7" />
<line x1="400.8" y1="301.4" x2="403" y2="301.4" stroke="#505050" stroke-width="0.8" />
<text transform="translate(400,303.4)" font-size="6.9" text-anchor="end" fill="#2a2a2a" stroke="#2a2a2a" stroke-width="0.2" >4</text>
<line x1="400.8" y1="315.8" x2="403" y2="315.8" stroke="#505050" stroke-width="0.8" />
<text transform="translate(400,317.8)" font-size="6.9" text-anchor="end" fill="#2a2a2a" stroke="#2a2a2a" stroke-width="0.2" >3</text>
<line x1="400.8" y1="330.2" x2="403" y2="330.2" stroke="#505050" stroke-width="0.8" />
<text transform="translate(400,332.2)" font-size="6.9" text-anchor="end" fill="#2a2a2a" stroke="#2a2a2a" stroke-width="0.2" >2</text>
<line x1="400.8" y1="344.6" x2="403" y2="344.6" stroke="#505050" stroke-width="0.8" />
<text transform="translate(400,346.6)" font-size="6.9" text-anchor="end" fill="#2a2a2a" stroke="#2a2a2a" stroke-width="0.2" >1</text>
<line x1="400.8" y1="359" x2="403" y2="359" stroke="#505050" stroke-width="0.8" />
<text transform="translate(400,361)" font-size="6.9" text-anchor="end" fill="#2a2a2a" stroke="#2a2a2a" stroke-width="0.2" >0</text>
<line x1="400.8" y1="366" x2="403" y2="366" stroke="#505050" stroke-width="0.8" />
<text transform="translate(400,368)" font-size="6.9" text-anchor="end" fill="#2a2a2a" stroke="#2a2a2a" stroke-width="0.2" >4</text>
<line x1="400.8" y1="387.5" x2="403" y2="387.5" stroke="#505050" stroke-width="0.8" />
<text transform="translate(400,389.5)" font-size="6.9" text-anchor="end" fill="#2a2a2a" stroke="#2a2a2a" stroke-width="0.2" >3</text>
<line x1="400.8" y1="409" x2="403" y2="409" stroke="#505050" stroke-width="0.8" />
<text transform="translate(400,411)" font-size="6.9" text-anchor="end" fill="#2a2a2a" stroke="#2a2a2a" stroke-width="0.2" >2</text>
<line x1="400.8" y1="430.5" x2="403" y2="430.5" stroke="#505050" stroke-width="0.8" />
<text transform="translate(400,432.5)" font-size="6.9" text-anchor="end" fill="#2a2a2a" stroke="#2a2a2a" stroke-width="0.2" >1</text>
<text transform="translate(477,449)" font-size="8.5" text-anchor="middle" fill="#2a2a2a" stroke="#2a2a2a" stroke-width="0.24" >Voltage (V vs.Na<tspan dy="-3.5" font-size="5">+</tspan><tspan dy="3.5">/Na)</tspan></text>
<text transform="translate(389.5,361.5) rotate(-90)" font-size="8.5" text-anchor="middle" fill="#2a2a2a" stroke="#2a2a2a" stroke-width="0.24" >D<tspan dy="1.5" font-size="5.6">Na</tspan><tspan dy="-1.5">(10</tspan><tspan dy="-3.8" font-size="5.6">-12</tspan><tspan dy="3.8">,cm</tspan><tspan dy="-3.8" font-size="5.6">2</tspan><tspan dy="3.8">s</tspan><tspan dy="-3.8" font-size="5.6">-1</tspan><tspan dy="3.8">)</tspan></text>
<text transform="translate(371.1,310.3)" font-size="13" text-anchor="start" fill="#2a2a2a" stroke="#2a2a2a" stroke-width="0.4" >(i)</text>
<line x1="407.9" y1="306.8" x2="423.7" y2="306.8" stroke="#8fb0e8" stroke-width="1.0" />
<rect x="414.6" y="305.6" width="2.4" height="2.4" fill="#5a80d0" stroke="none" stroke-width="1"/>
<line x1="407.9" y1="315.2" x2="423.7" y2="315.2" stroke="#f7b07a" stroke-width="1.0" />
<path d="M415.8,313.4 L417.4,316.2 L414.2,316.2Z" fill="#f5923e"/>
<text transform="translate(425.2,309.1)" font-size="7.1" text-anchor="start" fill="#2a2a2a" stroke="#2a2a2a" stroke-width="0.32" >EC/DEC</text>
<text transform="translate(425.2,317.6)" font-size="7.1" text-anchor="start" fill="#2a2a2a" stroke="#2a2a2a" stroke-width="0.32" >THF</text>
<text transform="translate(541,311.5)" font-size="6.8" text-anchor="end" fill="#2a2a2a" stroke="#2a2a2a" stroke-width="0.25" >Sodiation</text>
<text transform="translate(542,384.5)" font-size="6.8" text-anchor="end" fill="#2a2a2a" stroke="#2a2a2a" stroke-width="0.25" >Deodiation</text>
</svg></body></html>
